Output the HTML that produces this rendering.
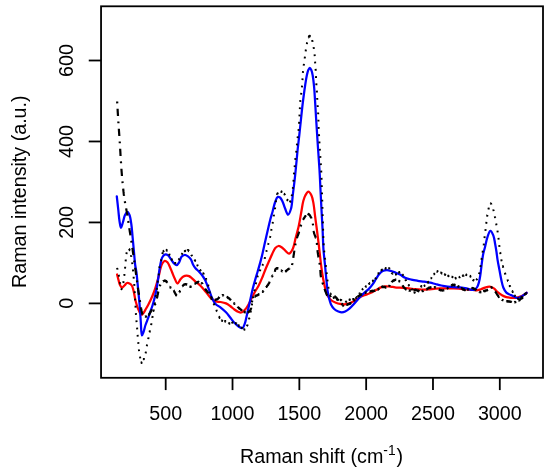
<!DOCTYPE html>
<html><head><meta charset="utf-8"><style>
html,body{margin:0;padding:0;background:#fff;}
svg{display:block;}
text{font-family:"Liberation Sans",Arial,sans-serif;font-size:19.7px;fill:#000;}
</style></head><body>
<svg width="550" height="476" viewBox="0 0 550 476">
<rect width="550" height="476" fill="#fff"/>
<rect x="101.05" y="6.3" width="441.95" height="371.50" fill="none" stroke="#000" stroke-width="1.8"/>
<line x1="165.70" y1="377.80" x2="165.70" y2="390.10" stroke="#000" stroke-width="1.8"/>
<text x="165.70" y="420" text-anchor="middle">500</text>
<line x1="232.52" y1="377.80" x2="232.52" y2="390.10" stroke="#000" stroke-width="1.8"/>
<text x="232.52" y="420" text-anchor="middle">1000</text>
<line x1="299.34" y1="377.80" x2="299.34" y2="390.10" stroke="#000" stroke-width="1.8"/>
<text x="299.34" y="420" text-anchor="middle">1500</text>
<line x1="366.16" y1="377.80" x2="366.16" y2="390.10" stroke="#000" stroke-width="1.8"/>
<text x="366.16" y="420" text-anchor="middle">2000</text>
<line x1="432.98" y1="377.80" x2="432.98" y2="390.10" stroke="#000" stroke-width="1.8"/>
<text x="432.98" y="420" text-anchor="middle">2500</text>
<line x1="499.80" y1="377.80" x2="499.80" y2="390.10" stroke="#000" stroke-width="1.8"/>
<text x="499.80" y="420" text-anchor="middle">3000</text>
<line x1="88.75" y1="303.40" x2="101.05" y2="303.40" stroke="#000" stroke-width="1.8"/>
<text transform="translate(72.6,303.40) rotate(-90)" text-anchor="middle">0</text>
<line x1="88.75" y1="222.43" x2="101.05" y2="222.43" stroke="#000" stroke-width="1.8"/>
<text transform="translate(72.6,222.43) rotate(-90)" text-anchor="middle">200</text>
<line x1="88.75" y1="141.47" x2="101.05" y2="141.47" stroke="#000" stroke-width="1.8"/>
<text transform="translate(72.6,141.47) rotate(-90)" text-anchor="middle">400</text>
<line x1="88.75" y1="60.50" x2="101.05" y2="60.50" stroke="#000" stroke-width="1.8"/>
<text transform="translate(72.6,60.50) rotate(-90)" text-anchor="middle">600</text>
<text x="240" y="463.3">Raman shift (cm<tspan dy="-8.3" font-size="13.8">-1</tspan><tspan dy="8.3" dx="0.8">)</tspan></text>
<text transform="translate(25.9,191.7) rotate(-90)" text-anchor="middle">Raman intensity (a.u.)</text>
<path d="M117.10,274.50 C117.57,276.33 118.01,278.22 118.50,280.00 C118.97,281.71 119.31,283.65 120.00,285.00 C120.55,286.07 121.25,287.52 122.00,287.60 C122.75,287.68 123.68,286.25 124.50,285.50 C125.35,284.72 126.09,283.28 127.00,283.00 C127.78,282.77 128.73,283.12 129.50,283.50 C130.34,283.91 131.17,284.54 131.80,285.50 C132.70,286.87 133.12,289.18 133.70,291.40 C134.42,294.19 134.82,297.99 135.60,301.00 C136.31,303.76 137.17,306.52 138.10,308.80 C138.87,310.68 139.79,312.82 140.60,313.80 C141.04,314.33 141.45,314.85 141.90,314.80 C142.51,314.73 143.20,313.36 143.80,312.50 C144.47,311.54 145.02,310.49 145.70,309.30 C146.53,307.85 147.56,306.00 148.40,304.40 C149.19,302.90 149.85,301.62 150.60,300.00 C151.50,298.06 152.57,295.64 153.40,293.50 C154.19,291.47 154.88,289.42 155.50,287.50 C156.06,285.76 156.48,284.31 157.00,282.50 C157.61,280.37 158.32,277.84 158.90,275.50 C159.48,273.17 159.88,270.62 160.50,268.50 C161.03,266.68 161.48,264.85 162.30,263.50 C162.98,262.38 163.90,260.94 164.80,260.80 C165.61,260.68 166.63,261.52 167.40,262.30 C168.41,263.34 169.12,265.27 169.90,266.90 C170.73,268.65 171.41,270.60 172.20,272.50 C173.01,274.47 173.78,276.62 174.70,278.50 C175.56,280.27 176.50,283.45 177.50,283.50 C178.44,283.55 179.45,280.52 180.50,279.30 C181.43,278.22 182.33,277.12 183.40,276.50 C184.35,275.95 185.51,275.65 186.50,275.60 C187.40,275.56 188.29,275.74 189.10,276.10 C189.96,276.48 190.63,277.18 191.50,277.90 C192.62,278.83 193.86,280.12 195.20,281.30 C196.73,282.64 198.66,284.00 200.20,285.50 C201.72,286.97 203.04,288.61 204.40,290.20 C205.74,291.78 207.05,293.53 208.30,295.00 C209.40,296.30 210.31,297.52 211.50,298.60 C212.71,299.69 213.99,300.93 215.50,301.50 C217.05,302.09 218.97,301.69 220.70,302.00 C222.47,302.32 224.38,302.70 226.00,303.40 C227.53,304.06 228.83,305.02 230.20,306.00 C231.64,307.04 232.96,308.48 234.40,309.50 C235.76,310.46 237.33,311.52 238.60,312.00 C239.54,312.36 240.42,312.63 241.20,312.50 C241.91,312.38 242.42,311.93 243.10,311.40 C244.08,310.64 245.35,309.32 246.30,308.10 C247.29,306.83 248.07,305.40 248.90,303.90 C249.81,302.26 250.58,300.44 251.50,298.60 C252.50,296.59 253.53,294.44 254.70,292.30 C255.95,290.01 257.52,287.79 258.80,285.30 C260.17,282.62 261.41,279.57 262.60,276.70 C263.77,273.87 264.77,270.93 265.90,268.20 C266.97,265.61 268.12,263.13 269.20,260.70 C270.22,258.40 271.16,256.16 272.20,254.00 C273.20,251.93 274.04,249.37 275.30,248.00 C276.24,246.98 277.37,246.08 278.50,246.00 C279.69,245.92 281.11,246.88 282.30,247.70 C283.63,248.62 284.80,250.35 286.00,251.40 C287.02,252.30 288.01,253.82 289.00,253.70 C290.22,253.55 291.60,251.17 292.60,249.20 C294.04,246.37 294.67,241.70 295.70,237.80 C296.78,233.71 297.97,229.47 298.90,225.20 C299.84,220.87 300.54,216.20 301.30,212.00 C302.00,208.17 302.49,204.01 303.30,201.00 C303.89,198.82 304.40,197.11 305.30,195.50 C306.13,194.01 307.37,191.60 308.40,191.60 C309.43,191.60 310.69,193.86 311.50,195.50 C312.54,197.63 312.93,200.54 313.50,203.60 C314.22,207.49 314.64,212.66 315.20,217.00 C315.73,221.11 316.25,224.71 316.80,229.00 C317.44,233.95 318.15,239.54 318.80,245.00 C319.48,250.73 320.13,257.25 320.80,262.60 C321.36,267.10 321.93,271.46 322.50,275.00 C322.93,277.67 323.31,279.63 323.80,282.00 C324.31,284.46 324.85,287.27 325.50,289.50 C326.04,291.35 326.63,292.99 327.30,294.50 C327.88,295.82 328.43,297.06 329.20,298.10 C329.92,299.07 330.69,299.87 331.70,300.60 C332.86,301.44 334.47,302.15 335.90,302.70 C337.28,303.24 338.69,303.62 340.10,303.90 C341.49,304.18 342.91,304.46 344.30,304.40 C345.71,304.33 347.12,303.92 348.50,303.50 C349.92,303.06 351.33,302.50 352.70,301.80 C354.13,301.07 355.50,300.07 356.90,299.20 C358.30,298.33 359.60,297.35 361.10,296.60 C362.68,295.81 364.44,295.30 366.20,294.60 C368.10,293.84 370.30,293.05 372.10,292.20 C373.70,291.44 375.03,290.60 376.50,289.80 C377.97,289.00 379.39,287.99 380.90,287.40 C382.33,286.84 383.78,286.44 385.30,286.30 C386.90,286.15 388.66,286.43 390.30,286.60 C391.89,286.77 393.41,287.12 395.00,287.30 C396.64,287.49 398.09,287.55 400.00,287.70 C402.54,287.90 406.19,288.12 408.90,288.40 C411.18,288.63 413.10,289.02 415.20,289.20 C417.30,289.38 419.40,289.48 421.50,289.50 C423.60,289.52 425.70,289.42 427.80,289.30 C429.90,289.18 432.03,288.95 434.10,288.80 C436.10,288.65 437.91,288.47 440.00,288.40 C442.37,288.32 445.19,288.40 447.60,288.40 C449.80,288.40 451.80,288.33 453.90,288.40 C456.00,288.47 458.10,288.65 460.20,288.80 C462.30,288.95 464.40,289.10 466.50,289.30 C468.60,289.50 470.82,289.85 472.80,290.00 C474.56,290.13 476.28,290.41 477.80,290.20 C479.14,290.01 480.29,289.44 481.50,289.00 C482.69,288.57 483.75,287.99 485.00,287.60 C486.37,287.17 487.94,286.49 489.40,286.60 C490.91,286.72 492.55,287.52 493.90,288.40 C495.29,289.31 496.27,290.88 497.60,292.00 C498.97,293.15 500.48,294.34 502.00,295.20 C503.42,296.01 504.85,296.67 506.40,297.10 C508.01,297.55 509.86,297.67 511.50,297.80 C513.02,297.92 514.45,298.09 515.90,297.90 C517.38,297.70 518.91,297.15 520.30,296.60 C521.64,296.07 522.99,295.39 524.10,294.70 C525.05,294.11 525.77,293.43 526.60,292.80" fill="none" stroke="#f00" stroke-width="2.25" stroke-linejoin="round" stroke-linecap="round"/>
<path d="M116.80,196.30 C117.30,200.87 117.83,205.68 118.30,210.00 C118.72,213.87 118.97,217.78 119.50,221.00 C119.92,223.55 120.39,227.76 121.00,227.80 C121.57,227.83 122.36,224.03 123.00,222.00 C123.70,219.79 124.08,216.82 125.00,215.00 C125.69,213.64 126.74,211.76 127.50,211.80 C128.23,211.84 128.94,213.60 129.50,215.00 C130.37,217.19 130.82,220.77 131.30,224.00 C131.85,227.70 132.10,231.85 132.50,236.00 C132.93,240.49 133.36,245.25 133.80,250.00 C134.26,254.91 134.66,260.95 135.20,265.00 C135.57,267.78 136.05,269.42 136.40,272.00 C136.83,275.16 137.13,278.91 137.50,282.60 C137.90,286.62 138.31,291.07 138.70,295.20 C139.08,299.20 139.47,302.83 139.80,307.00 C140.18,311.70 140.44,317.13 140.80,322.00 C141.14,326.62 141.12,335.36 141.90,335.50 C142.32,335.57 142.99,333.39 143.50,332.00 C144.21,330.09 144.73,327.33 145.50,325.00 C146.29,322.62 147.36,320.26 148.20,317.90 C149.02,315.59 149.75,313.16 150.50,311.00 C151.18,309.06 151.83,307.62 152.50,305.50 C153.39,302.68 154.46,298.66 155.20,295.50 C155.86,292.70 156.30,290.29 156.80,287.50 C157.34,284.47 157.87,280.87 158.30,278.00 C158.65,275.63 158.88,273.65 159.20,271.50 C159.51,269.38 159.77,267.35 160.20,265.20 C160.66,262.90 161.09,259.91 161.90,258.10 C162.48,256.82 163.25,255.73 164.00,255.10 C164.54,254.65 165.08,254.30 165.70,254.30 C166.45,254.30 167.44,254.87 168.20,255.50 C169.14,256.28 169.83,257.70 170.70,258.90 C171.66,260.22 172.61,262.01 173.70,263.10 C174.61,264.01 175.71,265.30 176.60,265.20 C177.52,265.09 178.35,263.49 179.10,262.30 C180.04,260.81 180.40,258.04 181.50,256.80 C182.35,255.84 183.52,255.07 184.60,255.00 C185.69,254.93 186.97,255.72 188.00,256.40 C189.08,257.12 190.10,258.10 190.90,259.30 C191.83,260.69 192.19,262.86 193.00,264.40 C193.74,265.80 194.50,266.99 195.50,268.20 C196.58,269.50 198.14,270.64 199.30,271.90 C200.39,273.08 201.38,274.24 202.30,275.50 C203.22,276.77 204.04,278.06 204.80,279.50 C205.62,281.05 206.26,282.71 207.00,284.50 C207.83,286.52 208.65,288.75 209.50,291.00 C210.42,293.43 211.21,296.34 212.30,298.60 C213.25,300.58 214.12,302.41 215.50,303.90 C216.91,305.42 218.99,306.24 220.70,307.60 C222.50,309.03 224.40,310.62 226.00,312.30 C227.56,313.93 228.80,315.76 230.20,317.50 C231.60,319.26 232.93,321.25 234.40,322.80 C235.74,324.21 237.18,325.57 238.60,326.50 C239.82,327.29 241.31,328.53 242.30,328.20 C243.40,327.84 244.02,325.55 244.70,323.80 C245.60,321.50 246.12,318.28 246.80,315.40 C247.52,312.36 248.20,309.14 248.90,306.00 C249.60,302.84 250.32,299.53 251.00,296.50 C251.62,293.72 252.14,291.16 252.80,288.50 C253.47,285.83 254.21,283.28 255.00,280.50 C255.86,277.47 256.91,274.07 257.80,271.00 C258.64,268.12 259.44,265.38 260.20,262.60 C260.94,259.88 261.61,257.39 262.30,254.50 C263.08,251.21 263.76,247.67 264.60,243.90 C265.57,239.58 266.79,234.31 267.80,230.00 C268.68,226.25 269.45,222.75 270.30,219.50 C271.05,216.64 271.84,214.25 272.60,211.50 C273.41,208.59 274.05,205.10 275.00,202.50 C275.77,200.40 276.49,197.55 277.60,197.00 C278.30,196.65 279.28,197.00 280.00,197.50 C280.99,198.19 281.72,199.92 282.50,201.50 C283.50,203.53 284.22,206.52 285.20,208.80 C286.10,210.90 287.13,214.70 288.10,214.70 C289.07,214.70 290.25,211.29 291.00,208.80 C292.12,205.07 292.28,199.00 292.90,194.10 C293.52,189.20 294.15,184.30 294.70,179.40 C295.25,174.50 295.72,169.60 296.20,164.70 C296.68,159.80 297.09,154.92 297.60,150.00 C298.12,145.02 298.75,139.98 299.30,135.00 C299.85,130.05 300.39,124.99 300.90,120.20 C301.38,115.67 301.80,111.29 302.30,107.00 C302.77,102.90 303.29,98.82 303.80,95.00 C304.26,91.51 304.69,88.29 305.20,85.00 C305.70,81.79 306.20,78.22 306.80,75.50 C307.26,73.40 307.65,71.36 308.30,70.00 C308.73,69.09 309.30,67.90 309.80,67.90 C310.30,67.90 310.87,69.08 311.30,70.00 C311.93,71.36 312.29,73.32 312.70,75.50 C313.28,78.62 313.72,83.04 314.10,87.00 C314.50,91.20 314.69,95.20 315.00,100.00 C315.38,105.95 315.76,112.96 316.20,120.00 C316.69,127.87 317.25,136.67 317.80,145.00 C318.35,153.33 319.04,162.13 319.50,170.00 C319.92,177.04 320.17,183.33 320.50,190.00 C320.83,196.67 321.15,203.33 321.50,210.00 C321.85,216.67 322.27,223.33 322.60,230.00 C322.93,236.67 323.05,243.82 323.50,250.00 C323.89,255.36 324.52,260.00 325.00,265.00 C325.48,270.00 325.93,275.39 326.40,280.00 C326.80,283.95 327.10,287.76 327.60,291.00 C328.00,293.61 328.42,295.73 329.00,298.00 C329.56,300.20 330.07,302.50 331.00,304.40 C331.85,306.13 332.91,307.80 334.20,309.00 C335.41,310.12 337.03,310.93 338.40,311.50 C339.56,311.99 340.67,312.40 341.80,312.40 C342.93,312.40 344.05,312.03 345.20,311.50 C346.58,310.86 348.00,309.78 349.40,308.60 C351.06,307.20 352.75,305.29 354.40,303.50 C356.12,301.63 357.81,299.44 359.50,297.60 C361.07,295.89 362.64,294.22 364.20,292.80 C365.60,291.52 367.06,290.72 368.40,289.40 C369.87,287.95 371.33,286.15 372.60,284.40 C373.86,282.65 374.86,280.68 376.00,278.90 C377.10,277.19 378.08,275.26 379.30,273.90 C380.35,272.74 381.42,271.72 382.70,271.10 C383.96,270.49 385.50,270.22 386.90,270.20 C388.30,270.18 389.71,270.62 391.10,271.00 C392.52,271.38 393.87,271.93 395.30,272.50 C396.83,273.12 398.43,273.77 400.00,274.60 C401.69,275.49 403.25,276.88 405.10,277.70 C407.04,278.56 409.29,279.08 411.40,279.60 C413.49,280.11 415.60,280.45 417.70,280.80 C419.80,281.15 421.90,281.38 424.00,281.70 C426.10,282.02 428.33,282.29 430.30,282.70 C432.07,283.07 433.56,283.56 435.30,284.00 C437.21,284.49 439.27,285.07 441.30,285.50 C443.37,285.94 445.49,286.32 447.60,286.60 C449.69,286.88 451.80,287.07 453.90,287.20 C456.00,287.33 458.11,287.20 460.20,287.40 C462.31,287.60 464.53,287.97 466.50,288.40 C468.27,288.79 470.03,289.65 471.50,289.80 C472.62,289.92 473.59,290.00 474.50,289.60 C475.51,289.15 476.48,288.11 477.20,287.00 C478.06,285.68 478.50,283.82 479.00,282.00 C479.57,279.93 479.88,277.82 480.30,275.20 C480.86,271.65 481.37,266.40 481.90,262.60 C482.34,259.46 482.64,256.74 483.20,254.00 C483.72,251.45 484.43,249.33 485.10,246.70 C485.88,243.61 486.56,239.44 487.60,236.60 C488.41,234.38 489.40,230.96 490.40,230.90 C491.31,230.85 492.54,233.57 493.30,235.40 C494.28,237.78 494.65,241.35 495.20,244.20 C495.71,246.87 496.10,249.37 496.50,252.00 C496.90,254.67 497.14,257.26 497.60,260.10 C498.12,263.29 498.87,266.84 499.50,270.20 C500.13,273.54 500.71,277.14 501.40,280.20 C501.99,282.84 502.39,285.34 503.30,287.50 C504.11,289.42 505.07,291.32 506.40,292.60 C507.64,293.79 509.40,294.32 510.90,295.10 C512.36,295.85 514.02,296.69 515.30,297.20 C516.24,297.57 516.88,298.02 517.80,298.00 C518.94,297.98 520.44,297.23 521.60,296.60 C522.73,295.99 523.80,294.99 524.70,294.30 C525.42,293.75 525.97,293.30 526.60,292.80" fill="none" stroke="#00f" stroke-width="2.25" stroke-linejoin="round" stroke-linecap="round"/>
<path d="M117.10,267.80 117.23,268.57 117.37,269.07 117.50,269.33 117.63,270.37 117.77,270.86 117.90,271.26 118.04,272.08 118.17,272.64 118.30,273.24 118.44,273.81 118.57,274.56 118.70,274.97 118.84,275.79 118.97,276.49 119.10,277.50 119.24,278.21 119.37,278.98 119.51,279.69 119.64,280.57 119.77,281.36 119.91,281.98 120.04,282.99 120.17,283.69 120.31,283.74 120.44,284.69 120.57,285.79 120.71,286.44 120.84,287.21 120.98,287.77 121.11,288.60 121.24,288.30 121.38,288.65 121.51,289.21 121.64,288.86 121.78,288.69 121.91,288.19 122.04,287.64 122.18,287.62 122.31,287.18 122.45,286.45 122.58,286.06 122.71,285.66 122.85,284.94 122.98,284.54 123.11,284.00 123.25,283.39 123.38,282.62 123.51,282.06 123.65,281.21 123.78,280.03 123.92,278.60 124.05,277.67 124.18,276.24 124.32,275.40 124.45,273.85 124.58,273.05 124.72,271.61 124.85,270.06 124.98,268.90 125.12,267.51 125.25,265.92 125.39,263.98 125.52,262.36 125.65,261.17 125.79,259.47 125.92,258.05 126.05,256.80 126.19,255.21 126.32,254.70 126.45,254.15 126.59,253.15 126.72,252.39 126.86,252.10 126.99,251.47 127.12,251.14 127.26,250.49 127.39,249.92 127.52,249.92 127.66,249.61 127.79,249.64 127.92,249.33 128.06,248.78 128.19,248.71 128.33,248.99 128.46,248.84 128.59,248.50 128.73,248.60 128.86,248.71 128.99,248.81 129.13,249.05 129.26,249.15 129.39,249.36 129.53,249.66 129.66,250.30 129.80,250.05 129.93,250.90 130.06,251.37 130.20,251.50 130.33,252.30 130.46,252.58 130.60,253.42 130.73,253.81 130.86,254.60 131.00,255.40 131.13,255.96 131.27,256.46 131.40,257.11 131.53,258.55 131.67,258.99 131.80,259.75 131.93,260.83 132.07,261.72 132.20,262.93 132.33,263.81 132.47,264.89 132.60,265.86 132.74,267.24 132.87,268.12 133.00,269.73 133.14,271.29 133.27,272.17 133.40,273.51 133.54,275.65 133.67,277.56 133.80,278.42 133.94,280.00 134.07,282.06 134.21,283.52 134.34,285.38 134.47,287.33 134.61,289.73 134.74,292.96 134.87,296.67 135.01,298.73 135.14,300.35 135.28,302.15 135.41,303.95 135.54,306.57 135.68,309.06 135.81,311.54 135.94,314.33 136.08,316.19 136.21,318.13 136.34,319.93 136.48,321.17 136.61,322.51 136.75,323.92 136.88,325.22 137.01,326.42 137.15,328.63 137.28,330.42 137.41,332.34 137.55,334.09 137.68,335.69 137.81,337.51 137.95,338.34 138.08,340.01 138.22,341.05 138.35,343.23 138.48,345.33 138.62,346.83 138.75,348.13 138.88,349.43 139.02,350.53 139.15,351.45 139.28,352.59 139.42,353.07 139.55,353.71 139.69,354.57 139.82,355.34 139.95,356.13 140.09,357.02 140.22,358.11 140.35,358.81 140.49,360.27 140.62,360.77 140.75,361.26 140.89,362.06 141.02,362.49" fill="none" stroke="#000" stroke-width="2.0" stroke-dasharray="1.820 5.460" stroke-dashoffset="0" stroke-linejoin="round"/>
<path d="M141.02,362.49 141.16,362.51 141.29,362.53 141.42,362.32 141.56,363.04 141.69,362.56 141.82,362.05 141.96,362.00 142.09,362.03 142.22,361.54 142.36,361.71 142.49,361.41 142.63,361.55 142.76,361.30 142.89,360.35 143.03,360.68 143.16,360.12 143.29,360.43 143.43,359.99 143.56,359.76 143.69,359.08 143.83,359.25 143.96,358.82 144.10,357.69 144.23,357.43 144.36,356.70 144.50,356.34 144.63,355.65 144.76,355.89 144.90,354.94 145.03,354.71 145.16,354.51 145.30,353.92 145.43,353.62 145.57,353.16 145.70,352.82 145.83,352.13 145.97,351.73 146.10,351.11 146.23,350.30 146.37,349.47 146.50,348.40 146.63,347.58 146.77,346.38 146.90,345.54 147.04,344.67 147.17,344.00 147.30,343.18 147.44,342.89 147.57,341.92 147.70,341.38 147.84,340.99 147.97,340.38 148.10,339.61 148.24,338.66 148.37,338.51 148.51,337.83 148.64,336.82 148.77,336.57 148.91,335.58 149.04,334.80 149.17,334.34 149.31,333.58 149.44,332.96 149.57,331.91 149.71,331.91 149.84,330.76 149.98,329.93 150.11,329.74 150.24,328.94 150.38,328.48 150.51,327.76 150.64,327.22 150.78,326.70 150.91,325.90 151.04,325.57 151.18,324.72 151.31,323.98 151.45,323.47 151.58,322.82 151.71,321.91 151.85,320.99 151.98,320.45 152.11,319.13 152.25,318.42 152.38,317.78 152.51,316.66 152.65,316.11 152.78,315.27 152.92,314.63 153.05,313.43 153.18,312.66 153.32,312.02 153.45,310.63 153.58,310.92 153.72,309.36 153.85,308.55 153.98,308.10 154.12,307.16 154.25,306.07 154.39,305.81 154.52,305.11 154.65,304.09 154.79,303.36 154.92,302.72 155.05,301.61 155.19,301.02 155.32,300.07 155.45,298.96 155.59,297.86 155.72,297.11 155.86,295.98 155.99,295.34 156.12,294.15 156.26,293.25 156.39,292.10 156.52,291.10 156.66,289.82 156.79,289.03 156.92,288.16 157.06,286.64 157.19,285.50 157.33,284.53 157.46,283.44 157.59,282.41 157.73,281.66 157.86,280.72 157.99,280.24 158.13,279.14 158.26,278.38 158.39,277.65 158.53,276.48 158.66,275.78 158.80,274.11 158.93,272.62 159.06,271.16 159.20,269.73 159.33,268.18 159.46,267.38 159.60,266.18 159.73,266.07 159.86,265.13 160.00,264.44 160.13,263.84 160.27,263.43 160.40,262.96 160.53,262.30 160.67,261.82 160.80,261.46 160.93,260.89 161.07,260.70 161.20,260.27 161.33,259.58 161.47,259.21 161.60,258.37 161.74,258.27 161.87,257.62 162.00,257.12 162.14,256.54 162.27,254.79 162.40,254.34 162.54,253.26 162.67,252.98 162.80,252.12 162.94,251.91" fill="none" stroke="#000" stroke-width="2.0" stroke-dasharray="1.820 5.460" stroke-dashoffset="0" stroke-linejoin="round"/>
<path d="M162.94,251.91 163.07,251.76 163.21,251.61 163.34,251.31 163.47,250.96 163.61,250.85 163.74,250.99 163.87,250.68 164.01,250.21 164.14,250.60 164.27,250.41 164.41,250.41 164.54,250.08 164.68,250.23 164.81,249.78 164.94,250.05 165.08,249.79 165.21,249.98 165.34,250.02 165.48,249.65 165.61,249.79 165.74,249.82 165.88,250.07 166.01,250.01 166.15,249.67 166.28,250.06 166.41,250.19 166.55,250.54 166.68,249.86 166.81,250.18 166.95,250.65 167.08,250.22 167.21,250.37 167.35,250.84 167.48,251.07 167.62,250.87 167.75,251.25 167.88,251.32 168.02,251.78 168.15,251.67 168.28,252.10 168.42,251.96 168.55,252.38 168.69,252.69 168.82,253.24 168.95,253.46 169.09,253.54 169.22,254.17 169.35,254.55 169.49,254.74 169.62,255.07 169.75,255.44 169.89,255.49 170.02,256.20 170.16,256.53 170.29,256.61 170.42,257.22 170.56,257.06 170.69,257.47 170.82,257.72 170.96,258.45 171.09,257.96 171.22,258.63 171.36,258.93 171.49,259.04 171.63,259.43 171.76,259.21 171.89,259.18 172.03,260.00 172.16,259.82 172.29,260.20 172.43,260.23 172.56,260.88 172.69,261.03 172.83,260.91 172.96,261.41 173.10,261.44 173.23,261.55 173.36,261.76 173.50,261.86 173.63,262.18 173.76,262.25 173.90,262.25 174.03,262.64 174.16,262.43 174.30,262.71 174.43,262.83 174.57,263.13 174.70,262.81 174.83,263.33 174.97,263.08 175.10,263.06 175.23,263.01 175.37,263.29 175.50,263.21 175.63,262.98 175.77,262.98 175.90,263.08 176.04,263.02 176.17,263.34 176.30,263.34 176.44,263.17 176.57,262.99 176.70,262.75 176.84,262.75 176.97,262.80 177.10,262.93 177.24,262.56 177.37,262.18 177.51,262.10 177.64,261.83 177.77,261.59 177.91,261.50 178.04,261.35 178.17,261.43 178.31,260.80 178.44,260.78 178.57,260.57 178.71,259.93 178.84,259.93 178.98,259.43 179.11,258.89 179.24,258.70 179.38,258.34 179.51,257.97 179.64,257.67 179.78,257.44 179.91,257.21 180.04,256.66 180.18,256.57 180.31,256.01 180.45,256.12 180.58,255.97 180.71,255.66 180.85,255.49 180.98,255.36 181.11,254.91 181.25,254.81 181.38,254.77 181.51,254.68 181.65,254.37 181.78,254.62 181.92,253.92 182.05,253.96 182.18,253.84 182.32,253.39 182.45,253.09 182.58,252.86 182.72,252.98 182.85,253.01 182.98,252.70 183.12,252.54 183.25,252.29 183.39,252.35 183.52,251.69 183.65,252.04 183.79,251.88 183.92,251.49 184.05,252.10 184.19,251.29 184.32,251.26 184.45,251.15 184.59,251.53 184.72,251.05 184.86,251.29 184.99,251.21 185.12,251.08 185.26,250.70 185.39,250.78 185.52,251.18 185.66,250.53 185.79,250.57 185.92,250.65 186.06,250.80 186.19,250.64 186.33,250.70 186.46,250.30 186.59,250.67 186.73,250.57 186.86,250.11 186.99,250.71 187.13,250.84 187.26,250.22 187.39,250.37 187.53,250.63 187.66,250.06 187.80,249.97 187.93,250.12 188.06,250.29" fill="none" stroke="#000" stroke-width="2.0" stroke-dasharray="1.820 5.460" stroke-dashoffset="0" stroke-linejoin="round"/>
<path d="M188.06,250.29 188.20,250.32 188.33,250.60 188.46,250.58 188.60,250.35 188.73,250.80 188.86,251.17 189.00,251.17 189.13,251.28 189.27,251.26 189.40,251.65 189.53,251.47 189.67,252.05 189.80,252.13 189.93,252.64 190.07,252.77 190.20,252.73 190.33,253.24 190.47,253.71 190.60,253.49 190.74,253.83 190.87,254.00 191.00,254.05 191.14,254.74 191.27,255.01 191.40,255.11 191.54,255.19 191.67,255.33 191.80,255.59 191.94,255.59 192.07,256.11 192.21,256.34 192.34,256.52 192.47,256.42 192.61,256.75 192.74,256.90 192.87,257.49 193.01,257.37 193.14,257.16 193.27,257.82 193.41,258.32 193.54,258.28 193.68,258.53 193.81,258.57 193.94,258.37 194.08,258.61 194.21,258.93 194.34,259.37 194.48,259.66 194.61,259.94 194.74,259.95 194.88,260.42 195.01,260.38 195.15,260.51 195.28,261.03 195.41,260.90 195.55,260.75 195.68,261.31 195.81,261.77 195.95,261.36 196.08,262.14 196.21,262.39 196.35,262.42 196.48,262.66 196.62,263.13 196.75,263.40 196.88,264.06 197.02,264.19 197.15,264.11 197.28,264.58 197.42,265.22 197.55,265.79 197.68,265.81 197.82,266.12 197.95,266.75 198.09,266.68 198.22,266.92 198.35,266.99 198.49,267.44 198.62,268.24 198.75,267.77 198.89,268.28 199.02,268.21 199.15,268.73 199.29,269.08 199.42,269.05 199.56,269.43 199.69,269.60 199.82,269.72 199.96,270.15 200.09,270.13 200.22,270.08 200.36,270.16 200.49,270.29 200.62,270.71 200.76,270.71 200.89,271.48 201.03,271.46 201.16,271.20 201.29,271.34 201.43,271.90 201.56,271.35 201.69,271.80 201.83,272.25 201.96,272.03 202.10,272.27 202.23,272.44 202.36,272.79 202.50,272.83 202.63,273.03 202.76,273.21 202.90,273.24 203.03,273.60 203.16,273.37 203.30,273.37 203.43,273.45 203.57,273.63 203.70,274.00 203.83,274.47 203.97,274.46 204.10,274.47 204.23,274.55 204.37,274.83 204.50,275.05 204.63,275.22 204.77,275.26 204.90,275.68 205.04,276.22 205.17,275.84 205.30,276.50 205.44,276.41 205.57,277.18 205.70,277.31 205.84,277.37 205.97,278.16 206.10,278.86 206.24,278.90 206.37,279.49 206.51,279.65 206.64,279.63 206.77,280.57 206.91,280.81 207.04,281.01 207.17,281.88 207.31,282.19 207.44,282.45 207.57,283.17 207.71,283.28 207.84,284.05 207.98,284.21 208.11,285.00 208.24,285.18 208.38,286.22 208.51,286.51 208.64,287.29 208.78,287.39 208.91,288.02 209.04,288.86 209.18,288.77 209.31,289.79 209.45,290.95 209.58,291.61 209.71,292.50 209.85,293.00 209.98,293.89 210.11,294.29 210.25,294.76 210.38,295.23 210.51,295.94 210.65,296.39 210.78,296.80 210.92,296.62 211.05,297.33 211.18,298.00 211.32,298.54 211.45,298.72 211.58,299.01 211.72,299.07 211.85,300.27 211.98,299.97 212.12,300.85 212.25,301.14 212.39,301.19 212.52,301.33 212.65,301.78 212.79,301.82 212.92,302.40 213.05,302.63 213.19,303.01 213.32,303.35 213.45,303.76 213.59,303.58 213.72,304.10 213.86,303.97 213.99,304.18 214.12,304.47 214.26,304.63 214.39,305.25 214.52,305.47 214.66,305.78 214.79,305.76 214.92,306.07 215.06,306.15 215.19,306.30 215.33,306.90 215.46,307.16 215.59,307.20 215.73,307.87 215.86,307.76 215.99,308.45 216.13,308.76 216.26,309.19 216.39,309.51 216.53,310.35 216.66,310.72 216.80,311.28 216.93,311.50 217.06,311.64 217.20,312.23 217.33,312.45 217.46,313.14 217.60,313.63 217.73,313.79 217.86,313.93 218.00,314.30 218.13,314.74 218.27,314.73 218.40,315.36 218.53,315.67 218.67,315.82 218.80,316.12 218.93,316.51 219.07,316.57 219.20,316.81 219.33,317.37 219.47,317.48 219.60,317.98 219.74,317.65 219.87,317.69 220.00,318.43 220.14,318.63 220.27,318.48 220.40,318.52 220.54,318.99 220.67,318.83 220.80,319.28 220.94,319.08 221.07,319.63 221.21,319.41 221.34,319.93 221.47,320.42 221.61,320.20 221.74,320.53 221.87,320.37 222.01,320.43 222.14,320.41 222.27,321.01 222.41,320.87 222.54,321.29 222.68,320.79 222.81,321.04 222.94,321.14 223.08,321.45 223.21,321.56 223.34,321.08 223.48,321.00 223.61,320.89 223.74,321.51 223.88,321.23 224.01,321.12 224.15,321.24 224.28,320.73 224.41,320.90 224.55,321.43 224.68,321.32 224.81,321.27 224.95,321.04 225.08,321.36 225.21,321.61 225.35,321.01 225.48,321.28 225.62,321.21 225.75,321.39 225.88,321.36 226.02,321.37 226.15,321.27 226.28,321.50 226.42,321.44 226.55,321.61 226.68,321.70 226.82,321.93 226.95,321.77 227.09,321.91 227.22,322.28 227.35,322.12 227.49,322.21 227.62,322.54 227.75,322.52 227.89,322.58 228.02,322.71 228.15,322.51 228.29,322.94 228.42,323.21 228.56,323.14 228.69,322.80 228.82,323.24 228.96,323.07 229.09,323.27 229.22,323.40 229.36,323.18 229.49,323.72 229.62,323.47 229.76,323.66 229.89,323.63 230.03,323.76 230.16,323.72 230.29,323.16 230.43,323.43 230.56,322.95 230.69,323.25 230.83,323.43 230.96,323.41 231.09,323.43 231.23,323.03 231.36,323.11 231.50,323.00 231.63,323.17 231.76,323.17 231.90,322.72 232.03,323.49 232.16,322.68 232.30,322.56 232.43,322.71 232.56,322.71 232.70,322.63 232.83,322.38 232.97,322.79 233.10,322.50 233.23,322.80 233.37,322.78 233.50,322.26 233.63,322.33 233.77,322.35 233.90,322.62 234.03,322.60 234.17,322.67 234.30,322.49 234.44,322.77 234.57,323.00 234.70,322.50 234.84,322.77 234.97,322.90 235.10,322.88 235.24,322.91 235.37,323.36 235.51,323.32 235.64,323.29 235.77,323.03 235.91,323.70 236.04,323.39 236.17,323.27 236.31,323.40 236.44,323.46 236.57,324.07 236.71,323.79 236.84,323.86 236.98,323.52 237.11,324.21 237.24,323.97 237.38,324.08 237.51,324.54 237.64,324.37 237.78,324.83 237.91,325.01 238.04,324.55 238.18,325.01 238.31,324.84 238.45,325.26 238.58,325.56 238.71,325.22 238.85,325.96 238.98,325.65 239.11,325.59 239.25,325.92 239.38,326.22 239.51,325.90 239.65,326.29 239.78,326.13 239.92,326.77 240.05,326.67 240.18,326.67 240.32,327.08 240.45,326.73 240.58,327.02 240.72,327.58 240.85,327.30 240.98,327.71 241.12,327.58 241.25,327.51 241.39,327.71 241.52,327.88 241.65,327.88 241.79,327.90 241.92,328.01 242.05,327.98 242.19,328.41 242.32,328.59 242.45,328.78 242.59,328.39 242.72,329.03 242.86,328.98 242.99,328.80 243.12,329.21 243.26,329.45 243.39,329.48 243.52,329.59 243.66,329.70 243.79,329.74 243.92,329.58" fill="none" stroke="#000" stroke-width="2.0" stroke-dasharray="1.820 5.460" stroke-dashoffset="0" stroke-linejoin="round"/>
<path d="M243.92,329.58 244.06,329.19 244.19,329.44 244.33,329.64 244.46,329.42 244.59,329.59 244.73,329.53 244.86,329.28 244.99,329.53 245.13,328.83 245.26,329.07 245.39,328.63 245.53,328.40 245.66,328.49 245.80,328.06 245.93,328.16 246.06,327.54 246.20,327.57 246.33,327.17 246.46,327.06 246.60,326.79 246.73,326.40 246.86,326.51 247.00,325.86 247.13,325.62 247.27,325.67 247.40,325.34 247.53,324.90 247.67,324.42 247.80,324.37 247.93,323.20 248.07,322.79 248.20,322.22 248.33,322.06 248.47,321.39 248.60,321.01 248.74,320.44 248.87,319.67 249.00,319.03 249.14,318.47 249.27,318.56 249.40,317.76 249.54,317.11 249.67,316.34 249.80,315.78 249.94,315.14 250.07,314.53 250.21,313.48 250.34,313.31 250.47,312.60 250.61,312.08 250.74,311.40 250.87,310.85 251.01,309.99 251.14,309.46 251.27,308.09 251.41,307.65 251.54,307.46 251.68,306.09 251.81,305.47 251.94,304.84 252.08,303.69 252.21,303.16 252.34,301.88 252.48,300.93 252.61,300.21 252.74,299.31 252.88,298.83 253.01,297.99 253.15,297.36 253.28,296.36 253.41,296.36 253.55,295.12 253.68,294.44 253.81,293.85 253.95,293.03 254.08,292.28 254.21,291.76 254.35,291.27 254.48,290.56 254.62,289.97 254.75,289.03 254.88,288.34 255.02,288.27 255.15,287.18 255.28,286.70 255.42,286.11 255.55,285.60 255.68,284.40 255.82,283.93 255.95,283.29 256.09,282.68 256.22,281.63 256.35,281.47 256.49,280.30 256.62,280.35 256.75,279.82 256.89,279.27 257.02,278.37 257.15,278.28 257.29,277.42 257.42,276.88 257.56,276.47 257.69,276.05 257.82,275.82 257.96,275.52 258.09,274.53 258.22,274.45 258.36,274.35 258.49,273.85 258.62,273.55 258.76,272.80 258.89,272.96 259.03,272.13 259.16,272.16 259.29,272.09 259.43,271.90 259.56,271.34 259.69,271.15 259.83,270.60 259.96,270.37 260.09,270.46 260.23,269.99 260.36,269.73 260.50,269.24 260.63,269.33 260.76,269.20 260.90,268.68 261.03,268.50 261.16,268.68 261.30,268.16 261.43,267.82 261.56,267.40 261.70,267.24 261.83,267.04 261.97,267.08 262.10,266.38 262.23,266.54 262.37,265.67 262.50,265.44 262.63,265.33 262.77,264.75 262.90,264.26 263.03,264.02 263.17,263.74 263.30,262.91 263.44,262.79 263.57,262.40 263.70,261.91 263.84,261.70 263.97,261.00 264.10,260.59 264.24,260.21 264.37,259.89 264.50,259.24 264.64,259.11 264.77,258.13 264.91,258.05 265.04,257.08 265.17,256.67 265.31,256.20 265.44,255.96 265.57,255.14 265.71,254.29 265.84,254.05 265.97,253.18 266.11,252.51 266.24,252.21 266.38,251.58 266.51,251.20 266.64,250.35 266.78,249.98 266.91,249.48 267.04,248.86 267.18,248.26 267.31,247.58 267.44,247.37 267.58,246.69 267.71,246.24 267.85,245.55 267.98,245.13 268.11,244.43 268.25,244.18 268.38,243.84 268.51,243.23 268.65,242.92 268.78,242.34 268.92,242.08 269.05,241.28 269.18,240.50 269.32,240.41 269.45,239.77 269.58,239.08 269.72,238.88 269.85,238.26 269.98,237.75 270.12,237.03 270.25,236.56 270.39,235.98 270.52,235.66 270.65,234.51 270.79,233.94 270.92,233.24 271.05,231.97 271.19,231.09 271.32,230.91 271.45,229.19 271.59,228.75 271.72,227.60 271.86,226.83 271.99,225.83 272.12,225.31 272.26,224.94 272.39,223.80 272.52,223.50 272.66,222.74 272.79,222.38 272.92,221.16 273.06,220.77 273.19,219.93 273.33,218.89 273.46,217.78 273.59,217.54 273.73,216.08 273.86,215.37 273.99,214.75 274.13,213.92 274.26,212.68 274.39,212.02 274.53,211.19 274.66,210.71 274.80,210.22 274.93,208.60 275.06,208.39 275.20,206.85 275.33,206.61 275.46,205.52 275.60,205.18 275.73,203.60 275.86,202.01 276.00,200.68 276.13,199.50 276.27,198.73 276.40,197.93 276.53,197.49 276.67,197.07 276.80,196.29 276.93,195.31 277.07,194.69 277.20,194.37 277.33,194.31" fill="none" stroke="#000" stroke-width="2.0" stroke-dasharray="1.820 5.460" stroke-dashoffset="0" stroke-linejoin="round"/>
<path d="M277.33,194.31 277.47,193.67 277.60,193.29 277.74,193.18 277.87,192.64 278.00,192.50 278.14,192.67 278.27,192.37 278.40,192.22 278.54,192.27 278.67,192.00 278.80,191.90 278.94,191.87 279.07,192.02 279.21,191.85 279.34,191.55 279.47,191.68 279.61,191.83 279.74,192.04 279.87,191.40 280.01,191.67 280.14,191.52 280.27,191.72 280.41,191.63 280.54,191.82 280.68,191.63 280.81,191.41 280.94,191.42 281.08,191.62 281.21,191.63 281.34,192.05 281.48,191.93 281.61,191.39 281.74,191.74 281.88,191.46 282.01,191.46 282.15,192.01 282.28,192.05 282.41,191.82 282.55,192.45 282.68,192.03 282.81,192.11 282.95,192.59 283.08,192.63 283.21,192.68 283.35,192.84 283.48,193.04 283.62,193.12 283.75,193.26 283.88,193.08 284.02,193.35 284.15,193.91 284.28,193.81 284.42,194.23 284.55,194.55 284.68,194.44 284.82,194.78 284.95,195.38 285.09,195.36 285.22,195.86 285.35,196.08 285.49,196.22 285.62,196.36 285.75,196.53 285.89,196.79 286.02,197.43 286.15,197.74 286.29,197.92 286.42,198.42 286.56,198.41 286.69,199.02 286.82,199.06 286.96,199.27 287.09,199.49 287.22,199.66 287.36,200.38 287.49,199.77 287.62,200.32 287.76,200.74 287.89,200.83 288.03,200.82 288.16,201.41 288.29,201.03 288.43,201.15 288.56,201.68 288.69,201.43 288.83,201.38 288.96,202.14 289.09,202.22 289.23,202.29 289.36,202.09 289.50,202.24 289.63,201.98 289.76,202.45 289.90,202.16 290.03,202.01 290.16,201.30 290.30,201.65 290.43,201.55 290.56,201.24 290.70,200.87 290.83,200.40 290.97,200.02 291.10,199.85 291.23,199.37 291.37,198.76 291.50,197.88 291.63,197.28 291.77,195.62 291.90,194.89 292.03,193.90 292.17,193.32 292.30,192.47 292.44,191.46 292.57,190.36 292.70,188.88 292.84,188.47 292.97,186.97 293.10,185.53 293.24,184.10 293.37,182.44 293.50,180.92 293.64,179.01 293.77,176.72 293.91,174.23 294.04,173.02 294.17,171.64 294.31,170.27 294.44,168.80 294.57,167.58 294.71,166.33 294.84,164.58 294.97,163.49 295.11,161.33 295.24,160.07 295.38,158.84 295.51,157.35 295.64,156.56 295.78,155.97 295.91,154.95 296.04,153.68 296.18,152.92 296.31,151.44 296.44,150.02 296.58,148.79 296.71,147.28 296.85,145.98 296.98,144.06 297.11,143.11 297.25,141.42 297.38,140.36 297.51,138.64 297.65,137.71 297.78,136.71 297.91,135.79 298.05,134.29 298.18,133.78 298.32,132.41 298.45,131.03 298.58,130.09 298.72,128.43 298.85,126.98 298.98,125.31 299.12,122.86 299.25,120.23 299.38,117.77 299.52,115.53 299.65,113.15 299.79,110.32 299.92,107.55 300.05,105.15 300.19,103.22 300.32,100.39 300.45,99.59 300.59,98.22 300.72,97.38 300.85,96.44 300.99,95.36 301.12,94.22 301.26,93.18 301.39,92.02 301.52,91.44 301.66,89.90 301.79,88.51 301.92,87.15 302.06,85.43 302.19,84.12 302.33,82.46 302.46,80.38 302.59,77.80 302.73,76.20 302.86,73.42 302.99,71.24 303.13,69.88 303.26,68.71 303.39,67.81 303.53,66.60 303.66,65.53 303.80,64.82 303.93,64.30 304.06,62.81 304.20,62.10 304.33,61.10 304.46,60.71 304.60,58.90 304.73,58.59 304.86,57.21 305.00,56.41 305.13,55.55 305.27,55.18 305.40,53.30 305.53,51.96 305.67,51.52 305.80,50.08 305.93,49.28 306.07,48.48 306.20,47.69 306.33,46.84 306.47,46.16 306.60,45.44 306.74,44.81 306.87,43.86 307.00,43.14 307.14,42.44 307.27,42.17 307.40,41.48 307.54,41.04 307.67,40.48 307.80,40.17 307.94,39.37 308.07,39.01 308.21,38.21 308.34,37.86 308.47,37.70 308.61,37.24 308.74,37.37 308.87,36.73 309.01,36.78 309.14,36.06 309.27,36.15 309.41,36.15" fill="none" stroke="#000" stroke-width="2.0" stroke-dasharray="1.820 5.460" stroke-dashoffset="0" stroke-linejoin="round"/>
<path d="M309.41,36.15 309.54,36.05 309.68,35.67 309.81,36.02 309.94,36.22 310.08,36.23 310.21,36.08 310.34,36.23 310.48,36.28 310.61,36.83 310.74,37.19 310.88,37.02 311.01,37.01 311.15,37.62 311.28,37.98 311.41,37.57 311.55,38.46 311.68,39.21 311.81,39.32 311.95,39.67 312.08,40.08 312.21,40.67 312.35,40.75 312.48,41.26 312.62,42.03 312.75,42.37 312.88,43.16 313.02,43.36 313.15,44.58 313.28,45.31 313.42,45.91 313.55,46.72 313.68,47.84 313.82,48.15 313.95,49.06 314.09,49.97 314.22,51.13 314.35,52.14 314.49,53.58 314.62,54.80 314.75,56.13 314.89,57.94 315.02,60.71 315.15,62.70 315.29,64.58 315.42,66.38 315.56,68.14 315.69,70.36 315.82,73.31 315.96,76.88 316.09,79.65 316.22,82.05 316.36,84.26 316.49,86.84 316.62,88.20 316.76,89.79 316.89,92.00 317.03,94.43 317.16,97.41 317.29,99.70 317.43,102.13 317.56,104.07 317.69,106.17 317.83,108.29 317.96,110.44 318.09,112.31 318.23,114.36 318.36,118.01 318.50,122.80 318.63,127.29 318.76,130.11 318.90,132.96 319.03,135.27 319.16,137.90 319.30,140.33 319.43,142.44 319.56,144.99 319.70,147.32 319.83,149.33 319.97,151.78 320.10,153.98 320.23,155.65 320.37,157.56 320.50,159.41 320.63,161.27 320.77,163.42 320.90,165.41 321.03,167.71 321.17,170.21 321.30,172.97 321.44,176.36 321.57,180.25 321.70,183.87 321.84,187.99 321.97,192.45 322.10,196.65 322.24,200.87 322.37,205.84 322.50,210.28 322.64,215.25 322.77,219.04 322.91,223.36 323.04,228.27 323.17,232.48 323.31,237.11 323.44,240.22 323.57,243.33 323.71,245.58 323.84,247.53 323.97,249.15 324.11,250.46 324.24,251.49 324.38,253.00 324.51,254.05 324.64,255.24 324.78,256.34 324.91,256.93 325.04,258.66 325.18,259.90 325.31,260.77 325.44,262.33 325.58,263.66 325.71,264.50 325.85,265.57 325.98,267.00 326.11,268.86 326.25,269.56 326.38,270.49 326.51,271.94 326.65,273.08 326.78,274.50 326.91,275.87 327.05,276.58 327.18,278.34 327.32,279.66 327.45,280.38 327.58,281.31 327.72,282.55 327.85,283.08 327.98,284.10 328.12,285.06 328.25,286.22 328.38,287.15 328.52,287.79 328.65,288.58 328.79,289.21 328.92,289.67 329.05,289.87 329.19,290.41 329.32,291.10 329.45,291.01 329.59,291.53 329.72,291.83 329.85,292.21 329.99,292.34 330.12,292.59 330.26,293.66 330.39,293.62 330.52,293.55 330.66,293.94 330.79,294.34 330.92,294.38 331.06,294.80 331.19,294.78 331.32,295.04 331.46,295.30 331.59,295.43 331.73,295.22 331.86,295.90 331.99,296.12 332.13,296.33 332.26,296.19 332.39,296.61 332.53,296.73 332.66,296.47 332.79,296.51 332.93,297.17 333.06,297.00 333.20,297.51 333.33,297.85 333.46,297.41 333.60,297.49 333.73,297.73 333.86,297.96 334.00,297.69 334.13,298.26 334.26,298.30 334.40,298.32 334.53,298.16 334.67,298.53 334.80,298.60 334.93,298.27 335.07,299.00 335.20,298.59 335.33,298.80 335.47,298.69 335.60,298.93 335.74,299.14 335.87,298.80 336.00,298.69 336.14,298.98 336.27,298.85 336.40,299.01 336.54,299.17 336.67,299.23 336.80,299.54 336.94,299.11 337.07,299.43 337.21,299.29 337.34,299.70 337.47,299.97 337.61,299.56 337.74,299.87 337.87,299.46 338.01,299.26 338.14,299.35 338.27,299.30 338.41,299.44 338.54,299.60 338.68,299.88 338.81,299.80 338.94,299.76 339.08,299.59 339.21,299.54 339.34,299.70 339.48,299.73 339.61,299.77 339.74,299.81 339.88,299.72 340.01,299.38 340.15,299.56 340.28,299.65 340.41,300.18 340.55,299.79 340.68,300.06 340.81,300.27 340.95,300.10 341.08,300.03 341.21,300.15 341.35,300.13 341.48,300.55 341.62,300.91 341.75,301.04 341.88,301.38 342.02,301.74 342.15,302.44 342.28,302.39 342.42,303.00 342.55,303.51 342.68,303.98 342.82,303.65 342.95,304.49 343.09,305.03 343.22,305.34 343.35,306.17 343.49,306.44 343.62,306.63 343.75,306.59 343.89,306.73 344.02,306.74 344.15,306.79 344.29,306.06 344.42,305.38 344.56,304.95 344.69,304.58 344.82,304.54 344.96,304.28 345.09,303.33 345.22,303.33 345.36,303.19 345.49,302.95 345.62,302.46 345.76,302.03 345.89,302.00 346.03,301.54 346.16,301.78 346.29,301.72 346.43,301.03 346.56,301.24 346.69,301.16 346.83,301.22 346.96,301.11 347.09,300.87 347.23,300.45 347.36,300.41 347.50,300.62 347.63,300.16 347.76,300.18 347.90,300.42 348.03,300.06 348.16,299.69 348.30,299.85 348.43,299.99 348.56,299.78 348.70,300.02 348.83,300.01 348.97,299.60 349.10,299.61 349.23,299.68 349.37,299.45 349.50,299.75 349.63,299.63 349.77,299.82 349.90,299.54 350.03,299.48 350.17,300.02 350.30,299.48 350.44,299.54 350.57,299.51 350.70,299.59 350.84,299.47 350.97,299.64 351.10,299.50 351.24,299.56 351.37,299.70 351.50,299.76 351.64,299.70 351.77,299.45 351.91,299.66 352.04,299.53 352.17,299.51 352.31,299.15 352.44,299.60 352.57,299.40 352.71,299.73 352.84,299.48 352.97,299.09 353.11,299.00 353.24,299.46 353.38,299.01 353.51,299.28 353.64,299.03 353.78,299.47 353.91,299.01 354.04,299.25 354.18,299.16 354.31,298.74 354.44,298.71 354.58,299.01 354.71,298.66 354.85,298.42 354.98,298.76 355.11,298.97 355.25,298.37 355.38,298.58 355.51,298.19 355.65,298.41 355.78,298.00 355.91,298.23 356.05,297.98 356.18,297.73 356.32,297.71 356.45,297.45 356.58,297.23 356.72,297.13 356.85,297.21 356.98,296.89 357.12,297.06 357.25,296.95 357.38,296.81 357.52,296.48 357.65,296.45 357.79,296.29 357.92,296.41 358.05,295.83 358.19,295.75 358.32,295.62 358.45,295.47 358.59,295.18 358.72,295.02 358.85,295.16 358.99,294.61 359.12,294.69 359.26,294.67 359.39,294.26 359.52,293.37 359.66,293.61 359.79,293.27 359.92,293.00 360.06,292.28 360.19,292.48 360.32,291.85 360.46,292.07 360.59,291.79 360.73,291.86 360.86,291.07 360.99,290.65 361.13,290.99 361.26,290.79 361.39,290.38 361.53,290.57 361.66,290.29 361.79,289.76 361.93,289.81 362.06,289.65 362.20,289.59 362.33,289.53 362.46,289.22 362.60,289.20 362.73,289.24 362.86,288.99 363.00,288.83 363.13,288.71 363.26,288.64 363.40,288.16 363.53,288.46 363.67,288.11 363.80,288.23 363.93,287.80 364.07,288.17 364.20,287.92 364.33,287.48 364.47,287.69 364.60,287.37 364.73,287.77 364.87,287.40 365.00,287.03 365.14,287.12 365.27,286.96 365.40,287.10 365.54,286.82 365.67,286.74 365.80,286.31 365.94,286.59 366.07,286.74 366.20,286.35 366.34,286.11 366.47,286.04 366.61,285.72 366.74,285.84 366.87,285.48 367.01,285.60 367.14,285.41 367.27,285.22 367.41,285.40 367.54,284.88 367.67,285.06 367.81,284.70 367.94,285.23 368.08,285.15 368.21,284.82 368.34,284.92 368.48,284.55 368.61,284.43 368.74,284.13 368.88,283.93 369.01,284.03 369.15,283.79 369.28,283.70 369.41,283.83 369.55,283.55 369.68,283.15 369.81,283.31 369.95,283.10 370.08,283.08 370.21,282.82 370.35,283.17 370.48,283.20 370.62,282.49 370.75,282.74 370.88,282.62 371.02,282.18 371.15,282.31 371.28,282.47 371.42,282.25 371.55,282.30 371.68,281.64 371.82,281.62 371.95,281.73 372.09,281.65 372.22,281.49 372.35,281.32 372.49,281.22 372.62,281.09 372.75,281.22 372.89,280.49 373.02,281.27 373.15,280.75 373.29,280.48 373.42,280.78 373.56,280.30 373.69,280.56 373.82,280.31 373.96,280.40 374.09,280.34 374.22,280.33 374.36,279.86 374.49,279.78 374.62,279.71 374.76,279.30 374.89,279.56 375.03,279.32 375.16,278.87 375.29,279.21 375.43,279.05 375.56,278.31 375.69,278.47 375.83,278.38 375.96,278.05 376.09,277.42 376.23,277.07 376.36,277.04 376.50,276.68 376.63,276.48 376.76,276.16 376.90,275.98 377.03,275.47 377.16,275.26 377.30,275.60 377.43,274.72 377.56,274.63 377.70,274.30 377.83,274.06 377.97,273.62 378.10,273.71 378.23,273.41 378.37,273.40 378.50,273.47 378.63,272.93 378.77,272.87 378.90,272.35 379.03,272.42 379.17,272.54 379.30,272.07 379.44,271.81 379.57,271.83 379.70,271.61 379.84,271.47 379.97,271.31 380.10,271.65 380.24,270.96 380.37,270.93 380.50,270.78 380.64,271.04 380.77,270.62 380.91,270.84 381.04,270.51 381.17,270.37 381.31,269.99 381.44,270.44 381.57,270.21 381.71,270.10 381.84,269.92 381.97,269.78 382.11,269.53 382.24,269.90 382.38,269.69 382.51,269.49 382.64,269.37 382.78,269.45 382.91,269.34 383.04,269.62 383.18,269.39 383.31,269.05 383.44,268.89 383.58,269.01 383.71,268.82 383.85,268.96 383.98,268.98 384.11,268.97 384.25,268.88 384.38,268.71 384.51,268.82 384.65,268.48 384.78,268.60 384.91,268.73 385.05,268.58 385.18,268.22 385.32,268.20 385.45,268.06 385.58,268.70 385.72,267.98 385.85,268.22 385.98,268.57 386.12,268.38 386.25,268.38 386.38,267.98 386.52,268.19 386.65,268.62 386.79,267.97 386.92,268.03 387.05,267.85 387.19,267.89 387.32,267.95 387.45,268.13 387.59,267.67 387.72,267.56 387.85,267.85 387.99,267.89 388.12,268.15 388.26,268.04 388.39,267.80 388.52,268.09 388.66,268.26 388.79,268.17 388.92,268.15 389.06,268.47 389.19,268.41 389.32,268.28 389.46,269.12 389.59,268.81 389.73,269.24 389.86,269.51 389.99,269.78 390.13,270.08 390.26,270.15 390.39,270.84 390.53,271.03 390.66,271.31 390.79,271.78 390.93,272.02 391.06,272.30 391.20,272.60 391.33,272.50 391.46,272.26 391.60,272.75 391.73,272.85 391.86,273.00 392.00,273.01 392.13,273.09 392.26,273.56 392.40,273.73 392.53,273.44 392.67,273.90 392.80,273.88 392.93,273.95 393.07,274.28 393.20,274.25 393.33,274.25 393.47,274.47 393.60,274.15 393.73,274.52 393.87,274.63 394.00,274.51 394.14,274.88 394.27,274.95 394.40,274.82 394.54,274.94 394.67,275.13 394.80,275.22 394.94,274.85 395.07,275.04 395.20,275.13 395.34,274.84 395.47,274.60 395.61,274.49 395.74,274.46 395.87,274.17 396.01,274.63 396.14,273.95 396.27,273.97 396.41,273.75 396.54,273.66 396.67,273.28 396.81,272.92 396.94,273.34 397.08,272.83 397.21,272.71 397.34,272.58 397.48,272.66 397.61,272.45 397.74,272.43 397.88,272.28 398.01,272.08 398.14,272.06 398.28,271.84 398.41,271.59 398.55,271.94 398.68,271.78 398.81,272.53 398.95,272.35 399.08,272.30 399.21,272.00 399.35,272.57 399.48,271.87 399.61,272.02 399.75,272.17 399.88,272.20 400.02,272.49 400.15,272.58 400.28,273.00 400.42,272.90 400.55,273.04 400.68,272.97 400.82,272.95 400.95,272.94 401.08,272.88 401.22,273.11 401.35,273.32 401.49,273.66 401.62,273.28 401.75,273.47 401.89,273.91 402.02,273.80 402.15,274.22 402.29,274.23 402.42,274.33 402.56,274.39 402.69,274.82 402.82,274.89 402.96,275.11 403.09,275.32 403.22,275.70 403.36,275.91 403.49,275.76 403.62,276.31 403.76,276.65 403.89,277.02 404.03,277.20 404.16,277.33 404.29,277.29 404.43,277.60 404.56,278.17 404.69,278.08 404.83,278.65 404.96,278.93 405.09,278.70 405.23,279.25 405.36,279.39 405.50,280.07 405.63,280.10 405.76,280.10 405.90,280.55 406.03,280.56 406.16,280.99 406.30,281.34 406.43,281.60 406.56,281.91 406.70,281.93 406.83,282.01 406.97,282.57 407.10,282.72 407.23,283.00 407.37,283.81 407.50,283.85 407.63,283.80 407.77,283.77 407.90,284.00 408.03,284.52 408.17,284.84 408.30,284.75 408.44,285.00 408.57,285.18 408.70,285.49 408.84,285.05 408.97,285.60 409.10,285.78 409.24,286.03 409.37,286.05 409.50,285.88 409.64,286.12 409.77,286.07 409.91,286.54 410.04,286.68 410.17,286.88 410.31,286.73 410.44,286.84 410.57,287.53 410.71,287.42 410.84,287.90 410.97,287.82 411.11,287.64 411.24,288.30 411.38,288.62 411.51,288.51 411.64,288.46 411.78,289.23 411.91,289.32 412.04,289.66 412.18,289.32 412.31,290.19 412.44,289.79 412.58,290.40 412.71,290.96 412.85,290.62 412.98,290.81 413.11,291.26 413.25,291.84 413.38,291.98 413.51,291.66 413.65,292.09 413.78,292.10 413.91,292.11 414.05,292.19 414.18,292.03 414.32,292.38 414.45,292.46 414.58,292.82 414.72,292.49 414.85,291.84 414.98,292.10 415.12,292.42 415.25,292.37 415.38,291.99 415.52,292.33 415.65,292.28 415.79,292.33 415.92,292.31 416.05,292.50 416.19,292.59 416.32,292.41 416.45,292.02 416.59,292.04 416.72,292.05 416.85,292.13 416.99,292.02 417.12,291.98 417.26,291.82 417.39,292.14 417.52,292.05 417.66,292.00 417.79,291.72 417.92,291.74 418.06,291.37 418.19,291.23 418.32,291.17 418.46,291.20 418.59,290.82 418.73,290.34 418.86,290.25 418.99,289.93 419.13,289.45 419.26,288.84 419.39,288.53 419.53,288.02 419.66,287.67 419.79,287.40 419.93,287.31 420.06,287.31 420.20,287.09 420.33,286.78 420.46,286.48 420.60,286.43 420.73,286.38 420.86,286.63 421.00,285.82 421.13,286.41 421.26,285.95 421.40,286.35 421.53,286.62 421.67,286.18 421.80,285.92 421.93,286.65 422.07,286.70 422.20,286.51 422.33,286.67 422.47,286.27 422.60,286.67 422.73,286.78 422.87,286.56 423.00,286.48 423.14,286.66 423.27,286.60 423.40,286.19 423.54,286.56 423.67,286.37 423.80,286.19 423.94,286.35 424.07,286.20 424.20,286.09 424.34,285.75 424.47,285.93 424.61,285.45 424.74,285.55 424.87,285.13 425.01,285.03 425.14,285.35 425.27,285.13 425.41,285.05 425.54,285.03 425.67,284.86 425.81,284.49 425.94,284.56 426.08,284.41 426.21,284.19 426.34,284.13 426.48,283.95 426.61,283.76 426.74,283.69 426.88,283.67 427.01,283.90 427.14,283.19 427.28,283.32 427.41,282.78 427.55,283.24 427.68,282.71 427.81,282.65 427.95,282.72 428.08,282.50 428.21,281.84 428.35,282.08 428.48,281.76 428.61,281.76 428.75,281.49 428.88,281.43 429.02,281.16 429.15,280.90 429.28,280.98 429.42,280.25 429.55,280.29 429.68,280.01 429.82,279.98 429.95,279.74 430.08,279.61 430.22,279.36 430.35,279.18 430.49,278.76 430.62,278.90 430.75,278.79 430.89,278.42 431.02,278.22 431.15,278.03 431.29,278.29 431.42,277.79 431.55,277.63 431.69,277.28 431.82,277.04 431.96,276.75 432.09,277.03 432.22,276.18 432.36,276.37 432.49,276.11 432.62,275.87 432.76,275.42 432.89,275.30 433.02,275.57 433.16,275.07 433.29,275.22 433.43,275.02 433.56,274.85 433.69,274.73 433.83,274.19 433.96,274.18 434.09,274.25 434.23,273.71 434.36,274.15 434.49,273.55 434.63,273.50 434.76,273.16 434.90,273.29 435.03,272.93 435.16,272.89 435.30,272.58 435.43,272.91 435.56,272.22 435.70,272.52 435.83,272.36 435.97,272.30 436.10,271.90 436.23,272.22 436.37,272.12 436.50,271.88 436.63,271.84 436.77,271.68 436.90,271.79 437.03,271.45 437.17,271.70 437.30,271.65 437.44,271.27 437.57,271.03 437.70,271.54 437.84,271.55 437.97,271.85 438.10,271.65 438.24,271.58 438.37,271.45 438.50,271.75 438.64,271.70 438.77,271.65 438.91,271.91 439.04,272.20 439.17,272.07 439.31,271.90 439.44,272.23 439.57,272.01 439.71,271.97 439.84,272.44 439.97,272.28 440.11,272.66 440.24,272.55 440.38,272.39 440.51,272.65 440.64,272.92 440.78,272.68 440.91,272.57 441.04,272.71 441.18,272.74 441.31,272.73 441.44,272.78 441.58,273.18 441.71,273.39 441.85,273.16 441.98,273.46 442.11,273.55 442.25,273.77 442.38,273.46 442.51,273.50 442.65,273.72 442.78,273.72 442.91,273.82 443.05,274.09 443.18,273.81 443.32,274.00 443.45,273.82 443.58,274.05 443.72,274.02 443.85,274.07 443.98,274.24 444.12,274.27 444.25,274.50 444.38,274.66 444.52,274.27 444.65,274.83 444.79,274.26 444.92,274.82 445.05,274.98 445.19,274.77 445.32,274.92 445.45,274.87 445.59,275.27 445.72,274.52 445.85,275.02 445.99,274.88 446.12,275.36 446.26,275.63 446.39,275.66 446.52,275.61 446.66,275.57 446.79,275.41 446.92,275.85 447.06,275.77 447.19,275.51 447.32,275.46 447.46,275.62 447.59,276.00 447.73,276.06 447.86,276.16 447.99,275.72 448.13,275.83 448.26,276.20 448.39,276.00 448.53,276.13 448.66,275.74 448.79,275.95 448.93,276.05 449.06,276.01 449.20,276.02 449.33,275.80 449.46,276.48 449.60,276.21 449.73,275.91 449.86,276.45 450.00,276.27 450.13,276.43 450.26,276.28 450.40,276.19 450.53,276.22 450.67,276.47 450.80,276.59 450.93,276.57 451.07,276.64 451.20,276.79 451.33,276.64 451.47,276.83 451.60,276.89 451.73,276.78 451.87,276.76 452.00,276.74 452.14,276.64 452.27,276.63 452.40,277.27 452.54,277.06 452.67,277.02 452.80,277.51 452.94,277.46 453.07,277.34 453.20,277.60 453.34,277.43 453.47,277.61 453.61,277.97 453.74,277.88 453.87,277.68 454.01,277.94 454.14,278.10 454.27,277.90 454.41,277.89 454.54,278.41 454.67,278.02 454.81,277.86 454.94,278.20 455.08,278.67 455.21,278.37 455.34,278.47 455.48,277.86 455.61,278.20 455.74,278.56 455.88,278.24 456.01,278.58 456.14,278.39 456.28,278.36 456.41,278.58 456.55,278.11 456.68,278.08 456.81,278.14 456.95,278.11 457.08,277.67 457.21,278.19 457.35,277.93 457.48,277.78 457.61,277.87 457.75,277.60 457.88,277.85 458.02,277.55 458.15,277.61 458.28,277.22 458.42,277.28 458.55,277.34 458.68,277.02 458.82,277.03 458.95,277.10 459.08,277.28 459.22,277.16 459.35,277.14 459.49,276.97 459.62,277.04 459.75,277.12 459.89,276.80 460.02,276.80 460.15,276.79 460.29,276.22 460.42,276.55 460.55,276.61 460.69,276.63 460.82,276.37 460.96,276.58 461.09,276.21 461.22,276.26 461.36,276.58 461.49,275.93 461.62,276.14 461.76,276.08 461.89,276.05 462.02,275.92 462.16,276.11 462.29,275.73 462.43,275.64 462.56,275.96 462.69,275.58 462.83,275.86 462.96,275.75 463.09,275.56 463.23,275.59 463.36,275.60 463.49,275.67 463.63,275.41 463.76,275.45 463.90,275.16 464.03,275.36 464.16,274.99 464.30,275.32 464.43,275.20 464.56,275.67 464.70,275.47 464.83,275.15 464.96,275.33 465.10,275.17 465.23,274.85 465.37,274.57 465.50,275.25 465.63,275.08 465.77,274.59 465.90,275.08 466.03,275.12 466.17,274.79 466.30,275.07 466.43,274.57 466.57,274.86 466.70,274.91 466.84,275.06 466.97,274.98 467.10,274.95 467.24,275.02 467.37,274.78 467.50,275.21 467.64,274.86 467.77,275.09 467.90,274.95 468.04,274.92 468.17,275.10 468.31,275.10 468.44,275.31 468.57,275.28 468.71,274.99 468.84,275.25 468.97,275.22 469.11,275.09 469.24,275.09 469.38,275.43 469.51,275.34 469.64,275.26 469.78,275.61 469.91,275.79 470.04,275.91 470.18,275.80 470.31,276.10 470.44,276.67 470.58,276.45 470.71,276.75 470.85,277.51 470.98,277.35 471.11,277.42 471.25,277.37 471.38,278.06 471.51,277.95 471.65,278.45 471.78,278.50 471.91,278.54 472.05,279.40 472.18,279.22 472.32,279.58 472.45,279.68 472.58,279.50 472.72,279.77 472.85,279.76 472.98,280.10 473.12,280.06 473.25,279.96 473.38,280.42 473.52,280.24 473.65,280.28 473.79,280.07 473.92,280.34 474.05,280.00 474.19,280.42 474.32,280.16 474.45,280.40 474.59,280.33 474.72,280.44 474.85,280.47 474.99,280.38 475.12,280.38 475.26,280.08 475.39,279.97 475.52,280.58 475.66,280.41 475.79,279.95 475.92,280.57 476.06,279.98 476.19,280.14 476.32,280.02 476.46,279.84 476.59,279.81 476.73,279.27 476.86,279.37 476.99,279.15 477.13,279.03 477.26,278.75 477.39,278.45 477.53,278.19 477.66,278.27 477.79,277.66 477.93,277.62 478.06,277.33 478.20,276.95 478.33,276.75 478.46,276.46 478.60,275.90 478.73,275.69 478.86,275.57 479.00,274.49 479.13,274.09 479.26,273.39 479.40,273.26 479.53,271.85 479.67,271.37 479.80,270.78 479.93,269.68 480.07,269.12 480.20,268.28 480.33,267.38 480.47,266.82 480.60,266.09 480.73,265.04 480.87,264.26 481.00,263.45 481.14,262.64 481.27,261.26 481.40,260.73 481.54,259.56 481.67,258.37 481.80,257.63 481.94,256.95 482.07,255.93 482.20,254.71 482.34,254.33 482.47,253.21 482.61,252.28 482.74,251.37 482.87,250.76 483.01,249.80 483.14,249.29 483.27,248.29 483.41,247.47 483.54,246.34 483.67,245.08 483.81,244.38 483.94,242.92 484.08,241.91 484.21,240.74 484.34,239.42 484.48,238.65 484.61,237.11 484.74,236.62 484.88,235.14 485.01,234.38 485.14,233.36 485.28,231.81 485.41,230.68 485.55,229.81 485.68,228.42 485.81,227.17 485.95,225.57 486.08,224.44 486.21,223.73 486.35,222.76 486.48,221.19 486.61,220.06 486.75,219.23 486.88,218.30 487.02,217.41 487.15,216.33 487.28,215.18 487.42,215.03 487.55,213.84 487.68,213.41 487.82,212.02 487.95,211.78 488.08,210.92 488.22,210.16 488.35,209.96 488.49,209.40 488.62,208.41 488.75,208.05 488.89,207.15 489.02,206.74 489.15,206.37 489.29,205.95 489.42,205.81 489.55,205.14 489.69,205.29 489.82,205.01 489.96,204.51 490.09,204.08 490.22,203.62 490.36,203.90 490.49,203.62" fill="none" stroke="#000" stroke-width="2.0" stroke-dasharray="1.820 5.460" stroke-dashoffset="0" stroke-linejoin="round"/>
<path d="M490.49,203.62 490.62,203.68 490.76,203.39 490.89,203.62 491.02,203.68 491.16,203.82 491.29,204.04 491.43,204.24 491.56,204.60 491.69,204.50 491.83,205.07 491.96,205.24 492.09,205.40 492.23,205.59 492.36,206.41 492.49,206.55 492.63,206.83 492.76,207.42 492.90,207.91 493.03,208.33 493.16,208.69 493.30,209.52 493.43,209.98 493.56,210.50 493.70,211.31 493.83,211.44 493.96,212.10 494.10,212.93 494.23,213.68 494.37,214.26 494.50,214.92 494.63,214.98 494.77,216.15 494.90,216.78 495.03,217.49 495.17,217.88 495.30,218.79 495.43,219.57 495.57,220.39 495.70,220.82 495.84,221.22 495.97,222.21 496.10,223.05 496.24,223.76 496.37,224.76 496.50,225.08 496.64,225.65 496.77,226.46 496.90,227.46 497.04,227.93 497.17,228.66 497.31,229.51 497.44,230.75 497.57,231.43 497.71,232.24 497.84,233.44 497.97,234.41 498.11,235.12 498.24,236.55 498.37,237.52 498.51,238.17 498.64,239.49 498.78,240.99 498.91,242.29 499.04,243.39 499.18,244.46 499.31,245.84 499.44,246.51 499.58,248.05 499.71,248.95 499.84,249.99 499.98,250.84 500.11,252.07 500.25,252.35 500.38,253.53 500.51,254.70 500.65,255.30 500.78,256.57 500.91,257.17 501.05,257.72 501.18,258.85 501.31,259.34 501.45,260.17 501.58,260.63 501.72,261.31 501.85,262.23 501.98,262.76 502.12,263.22 502.25,263.80 502.38,264.69 502.52,265.47 502.65,265.49 502.79,266.31 502.92,266.10 503.05,266.88 503.19,267.76 503.32,268.39 503.45,268.53 503.59,269.06 503.72,269.43 503.85,269.99 503.99,269.99 504.12,270.73 504.26,270.92 504.39,271.33 504.52,271.79 504.66,272.14 504.79,272.41 504.92,272.89 505.06,273.12 505.19,273.98 505.32,274.19 505.46,274.33 505.59,275.07 505.73,275.36 505.86,275.54 505.99,275.67 506.13,276.16 506.26,276.55 506.39,277.04 506.53,277.06 506.66,277.31 506.79,278.20 506.93,278.34 507.06,278.46 507.20,278.55 507.33,279.16 507.46,279.62 507.60,279.89 507.73,280.25 507.86,280.45 508.00,281.03 508.13,281.06 508.26,281.46 508.40,281.83 508.53,282.19 508.67,283.08 508.80,282.75 508.93,283.51 509.07,283.65 509.20,283.97 509.33,284.61 509.47,284.64 509.60,285.29 509.73,286.12 509.87,285.98 510.00,286.42 510.14,286.49 510.27,287.06 510.40,286.98 510.54,287.62 510.67,287.86 510.80,288.61 510.94,288.45 511.07,288.69 511.20,288.93 511.34,289.09 511.47,289.76 511.61,290.17 511.74,290.08 511.87,290.56 512.01,290.61 512.14,291.02 512.27,291.28 512.41,291.16 512.54,291.53 512.67,292.12 512.81,291.79 512.94,292.40 513.08,292.56 513.21,292.68 513.34,293.10 513.48,293.38 513.61,293.65 513.74,293.24 513.88,294.32 514.01,294.11 514.14,294.62 514.28,294.60 514.41,294.71 514.55,295.02 514.68,295.86 514.81,295.74 514.95,295.54 515.08,295.84 515.21,296.20 515.35,296.26 515.48,296.33 515.61,296.44 515.75,296.42 515.88,296.93 516.02,297.15 516.15,297.52 516.28,297.12 516.42,297.50 516.55,297.52 516.68,297.92 516.82,297.79 516.95,297.81 517.08,297.73 517.22,298.33 517.35,298.34 517.49,298.63 517.62,298.39 517.75,299.10 517.89,298.51 518.02,298.81 518.15,298.83 518.29,299.00 518.42,298.77 518.55,298.62 518.69,298.60 518.82,298.95 518.96,298.78 519.09,298.79 519.22,298.51 519.36,298.65 519.49,298.61 519.62,298.62 519.76,298.14 519.89,298.20 520.02,298.62 520.16,298.12 520.29,298.10 520.43,297.95 520.56,297.64 520.69,297.63 520.83,297.82 520.96,297.52 521.09,297.97 521.23,297.16 521.36,296.98 521.49,297.20 521.63,296.94 521.76,297.36 521.90,296.90 522.03,296.98 522.16,296.48 522.30,296.78 522.43,296.65 522.56,296.65 522.70,296.32 522.83,296.25 522.96,296.05 523.10,296.06 523.23,295.66 523.37,295.72 523.50,295.36 523.63,295.47 523.77,295.14 523.90,294.93 524.03,294.79 524.17,295.09 524.30,294.35 524.43,294.24 524.57,294.54 524.70,294.10 524.84,294.09 524.97,293.97 525.10,294.42 525.24,293.72 525.37,293.60 525.50,293.56 525.64,293.59 525.77,293.54 525.90,293.04 526.04,293.32 526.17,293.52 526.31,292.67 526.44,293.04 526.57,292.97" fill="none" stroke="#000" stroke-width="2.0" stroke-dasharray="1.820 5.460" stroke-dashoffset="0" stroke-linejoin="round"/>
<path d="M117.15,101.50 117.28,103.69 117.42,106.00 117.55,108.02 117.68,110.92 117.82,113.12 117.95,115.18 118.09,117.56 118.22,119.68 118.35,121.69 118.49,123.96 118.62,125.76 118.75,127.69 118.89,129.52 119.02,131.56 119.15,133.35 119.29,135.31 119.42,137.03 119.56,139.05 119.69,140.88 119.82,143.17 119.96,145.25 120.09,147.54 120.22,149.92 120.36,152.12 120.49,154.77 120.62,157.27 120.76,158.97 120.89,161.06 121.03,163.06 121.16,165.30 121.29,167.08 121.43,169.07 121.56,170.83 121.69,172.52 121.83,174.24 121.96,175.84 122.09,177.59 122.23,178.85 122.36,180.44 122.50,181.96 122.63,183.55 122.76,184.53 122.90,185.81 123.03,187.17 123.16,188.65 123.30,189.72 123.43,191.14 123.56,191.86 123.70,193.42 123.83,194.50 123.97,195.22 124.10,196.47 124.23,197.61 124.37,198.42 124.50,199.47 124.63,200.55 124.77,201.11 124.90,201.83 125.03,202.53 125.17,203.47 125.30,204.07 125.44,204.78 125.57,205.48 125.70,206.27 125.84,206.70 125.97,207.31 126.10,207.86 126.24,209.04 126.37,209.57 126.50,210.46 126.64,210.96 126.77,211.59 126.91,212.51 127.04,213.23 127.17,213.88 127.31,214.77 127.44,216.00 127.57,216.69 127.71,217.59 127.84,218.41 127.97,219.27 128.11,220.42 128.24,221.21 128.38,222.04 128.51,223.04 128.64,223.84 128.78,224.87 128.91,225.88 129.04,226.47 129.18,227.64 129.31,228.21 129.44,229.18 129.58,229.89 129.71,230.83 129.85,231.71 129.98,232.49 130.11,233.30 130.25,234.16 130.38,234.98 130.51,235.73 130.65,236.77 130.78,237.71 130.91,238.62 131.05,239.43 131.18,240.52 131.32,241.06 131.45,241.79 131.58,242.96 131.72,243.40 131.85,244.53 131.98,245.12 132.12,246.17 132.25,246.73 132.38,248.02 132.52,248.80 132.65,249.63 132.79,250.98 132.92,251.85 133.05,252.75 133.19,253.64 133.32,254.72 133.45,255.66 133.59,256.70 133.72,257.61 133.85,258.29 133.99,259.17 134.12,260.04 134.26,260.80 134.39,261.78 134.52,262.75 134.66,263.79 134.79,264.84 134.92,265.55 135.06,266.77 135.19,267.69 135.33,269.10 135.46,269.87 135.59,270.99 135.73,271.82 135.86,272.82 135.99,273.93 136.13,274.80 136.26,275.84 136.39,276.50 136.53,277.75 136.66,278.46 136.80,279.77 136.93,280.44 137.06,281.61 137.20,282.26 137.33,283.54 137.46,284.38 137.60,285.47 137.73,286.57 137.86,287.53 138.00,288.60 138.13,289.63 138.27,290.54 138.40,291.32 138.53,292.01 138.67,292.93 138.80,293.85 138.93,294.41 139.07,295.64 139.20,296.34 139.33,297.18 139.47,298.21 139.60,299.03 139.74,299.83 139.87,300.51 140.00,301.55 140.14,302.41 140.27,303.07 140.40,304.17 140.54,304.93 140.67,305.44 140.80,306.60 140.94,307.25 141.07,308.41 141.21,309.13 141.34,309.57 141.47,310.25 141.61,311.02 141.74,311.65 141.87,312.56 142.01,313.04 142.14,313.38 142.27,313.89 142.41,313.85 142.54,314.44 142.68,314.74 142.81,314.80 142.94,314.91 143.08,315.27 143.21,315.62 143.34,315.52 143.48,315.47 143.61,315.95 143.74,315.60 143.88,316.03 144.01,315.97 144.15,316.26 144.28,316.08 144.41,316.45 144.55,316.36 144.68,316.12 144.81,316.12 144.95,316.39 145.08,316.64 145.21,316.50 145.35,316.51 145.48,316.48 145.62,316.63 145.75,316.58 145.88,316.57 146.02,316.40 146.15,316.69 146.28,316.71 146.42,316.32 146.55,316.81 146.68,316.57 146.82,316.37 146.95,316.14 147.09,316.46 147.22,316.40 147.35,316.19 147.49,315.96 147.62,316.29 147.75,315.96 147.89,315.88 148.02,316.23 148.15,316.00 148.29,315.69 148.42,315.34 148.56,315.32 148.69,314.73 148.82,314.88 148.96,314.56 149.09,314.28 149.22,314.02 149.36,314.10 149.49,313.82 149.62,313.61 149.76,313.49 149.89,313.05 150.03,312.79 150.16,312.51 150.29,312.49 150.43,312.42 150.56,312.05 150.69,311.92 150.83,311.42 150.96,311.27 151.09,310.97 151.23,310.65 151.36,310.84 151.50,310.45 151.63,309.99 151.76,309.77 151.90,309.65 152.03,309.25 152.16,309.33 152.30,308.90 152.43,308.86 152.56,308.61 152.70,308.52 152.83,308.25 152.97,308.06 153.10,307.99 153.23,307.87 153.37,307.77 153.50,307.66 153.63,307.70 153.77,307.43 153.90,307.09 154.03,307.04 154.17,306.63 154.30,306.70 154.44,306.32 154.57,305.79 154.70,305.79 154.84,305.49 154.97,304.67 155.10,304.59 155.24,304.25 155.37,303.66 155.50,303.37 155.64,302.96 155.77,302.73 155.91,302.25 156.04,302.14 156.17,301.25 156.31,300.96 156.44,300.29 156.57,299.75 156.71,298.97 156.84,298.26 156.97,297.81 157.11,297.41 157.24,296.92 157.38,296.19 157.51,295.59 157.64,294.79 157.78,294.50 157.91,293.83 158.04,292.93 158.18,292.37 158.31,291.61 158.44,291.36 158.58,290.63 158.71,290.01 158.85,289.56 158.98,289.07 159.11,288.47 159.25,287.87 159.38,287.40 159.51,286.89 159.65,286.77 159.78,286.62 159.91,285.69 160.05,285.60 160.18,285.32 160.32,284.83 160.45,284.72 160.58,284.27 160.72,284.34 160.85,283.85 160.98,283.72 161.12,283.59 161.25,283.24 161.38,282.86 161.52,282.86 161.65,282.88 161.79,282.60 161.92,282.50 162.05,282.16 162.19,282.19 162.32,282.12 162.45,281.89 162.59,282.01 162.72,281.59 162.85,281.35 162.99,281.15 163.12,281.43 163.26,281.16 163.39,281.22 163.52,281.06 163.66,281.15 163.79,281.04 163.92,280.77 164.06,280.83 164.19,280.92 164.32,280.57 164.46,280.94 164.59,280.91 164.73,280.88 164.86,280.73 164.99,280.82 165.13,280.65 165.26,280.85 165.39,280.80 165.53,280.94 165.66,280.91 165.79,281.09 165.93,281.29 166.06,281.02 166.20,281.43 166.33,281.13 166.46,281.24 166.60,281.69 166.73,281.89 166.86,282.17 167.00,282.11 167.13,282.59 167.26,282.89 167.40,283.34 167.53,283.45 167.67,283.85 167.80,283.94 167.93,284.36 168.07,284.61 168.20,285.06 168.33,285.09 168.47,285.36 168.60,285.79 168.74,286.17 168.87,286.16 169.00,286.33 169.14,286.39 169.27,286.73 169.40,286.78 169.54,287.07 169.67,286.98 169.80,286.91 169.94,287.06 170.07,287.09 170.21,287.15 170.34,287.58 170.47,287.60 170.61,287.40 170.74,287.90 170.87,287.77 171.01,287.68 171.14,287.94 171.27,287.96 171.41,287.94 171.54,287.86 171.68,288.22 171.81,288.34 171.94,288.02 172.08,288.56 172.21,288.66 172.34,288.61 172.48,288.80 172.61,288.87 172.74,288.92 172.88,289.13 173.01,289.52 173.15,289.30 173.28,289.72 173.41,289.91 173.55,290.00 173.68,290.26 173.81,290.37 173.95,290.70 174.08,291.09 174.21,291.41 174.35,291.52 174.48,292.36 174.62,292.13 174.75,292.51 174.88,292.72 175.02,292.96 175.15,293.43 175.28,293.41 175.42,293.88 175.55,294.09 175.68,294.02 175.82,294.57 175.95,294.58 176.09,295.30 176.22,295.10 176.35,295.24 176.49,295.29 176.62,295.54 176.75,295.77 176.89,295.81 177.02,295.82 177.15,295.90 177.29,295.92 177.42,296.06 177.56,295.49 177.69,295.49 177.82,295.25 177.96,294.95 178.09,294.75 178.22,294.55 178.36,294.51 178.49,294.11 178.62,293.78 178.76,293.66 178.89,293.34 179.03,293.00 179.16,292.82 179.29,292.40 179.43,292.35 179.56,292.06 179.69,291.66 179.83,291.25 179.96,291.33 180.09,290.81 180.23,290.90 180.36,290.06 180.50,289.95 180.63,289.44 180.76,289.22 180.90,288.99 181.03,288.46 181.16,288.26 181.30,288.02 181.43,287.75 181.56,287.56 181.70,287.39 181.83,287.14 181.97,286.85 182.10,286.58 182.23,286.30 182.37,286.19 182.50,286.07 182.63,286.09 182.77,285.79 182.90,285.53 183.03,285.66 183.17,285.33 183.30,285.21 183.44,285.17 183.57,285.15 183.70,284.64 183.84,284.72 183.97,284.81 184.10,284.65 184.24,284.49 184.37,284.47 184.50,284.67 184.64,284.35 184.77,284.47 184.91,284.43 185.04,284.23 185.17,284.33 185.31,284.19 185.44,284.16 185.57,284.09 185.71,284.37 185.84,284.21 185.97,284.21 186.11,284.15 186.24,284.59 186.38,284.48 186.51,284.40 186.64,284.37 186.78,284.31 186.91,284.62 187.04,284.69 187.18,284.53 187.31,284.97 187.44,285.02 187.58,284.92 187.71,285.14 187.85,285.36 187.98,285.67 188.11,285.88 188.25,285.92 188.38,286.61 188.51,286.67 188.65,287.00 188.78,287.16 188.91,287.08 189.05,287.23 189.18,287.32 189.32,287.34 189.45,287.20 189.58,287.11 189.72,287.15 189.85,286.98 189.98,286.95 190.12,286.67 190.25,286.89 190.38,286.66 190.52,286.64 190.65,286.63 190.79,286.61 190.92,286.75 191.05,286.44 191.19,286.13 191.32,286.26 191.45,286.06 191.59,286.10 191.72,285.85 191.85,285.74 191.99,285.66 192.12,285.54 192.26,285.27 192.39,285.32 192.52,285.30 192.66,285.36 192.79,285.05 192.92,284.93 193.06,284.96 193.19,284.85 193.32,284.90 193.46,284.66 193.59,284.48 193.73,284.58 193.86,284.52 193.99,284.16 194.13,284.16 194.26,283.83 194.39,283.94 194.53,283.79 194.66,283.80 194.79,283.69 194.93,283.65 195.06,283.58 195.20,283.59 195.33,283.48 195.46,283.29 195.60,283.11 195.73,283.39 195.86,283.34 196.00,283.00 196.13,283.07 196.26,282.71 196.40,282.63 196.53,282.74 196.67,282.92 196.80,282.50 196.93,282.46 197.07,282.74 197.20,282.19 197.33,282.48 197.47,282.41 197.60,282.25 197.73,282.26 197.87,282.55 198.00,281.97 198.14,282.04 198.27,282.01 198.40,281.92 198.54,281.79 198.67,282.17 198.80,281.96 198.94,281.67 199.07,281.80 199.20,281.95 199.34,281.96 199.47,281.71 199.61,281.92 199.74,281.99 199.87,282.04 200.01,282.08 200.14,281.82 200.27,282.39 200.41,282.22 200.54,282.51 200.67,282.73 200.81,282.39 200.94,282.33 201.08,282.72 201.21,282.67 201.34,282.74 201.48,282.77 201.61,283.27 201.74,283.09 201.88,283.09 202.01,283.35 202.15,283.39 202.28,283.73 202.41,283.81 202.55,283.91 202.68,284.33 202.81,284.37 202.95,284.78 203.08,285.08 203.21,285.09 203.35,285.30 203.48,285.68 203.62,286.03 203.75,286.17 203.88,286.46 204.02,286.70 204.15,287.02 204.28,287.32 204.42,287.39 204.55,287.67 204.68,287.98 204.82,288.11 204.95,288.44 205.09,288.71 205.22,288.83 205.35,288.95 205.49,289.12 205.62,289.67 205.75,289.74 205.89,289.65 206.02,289.87 206.15,290.44 206.29,290.57 206.42,290.56 206.56,290.89 206.69,290.70 206.82,291.09 206.96,291.37 207.09,291.19 207.22,291.52 207.36,291.92 207.49,292.15 207.62,292.08 207.76,292.38 207.89,292.74 208.03,292.63 208.16,292.67 208.29,293.02 208.43,293.14 208.56,293.54 208.69,293.55 208.83,293.59 208.96,294.21 209.09,293.98 209.23,294.29 209.36,294.50 209.50,294.70 209.63,294.81 209.76,295.07 209.90,295.19 210.03,295.22 210.16,295.61 210.30,295.84 210.43,296.07 210.56,296.34 210.70,296.46 210.83,296.96 210.97,297.22 211.10,296.91 211.23,297.43 211.37,297.54 211.50,297.47 211.63,298.08 211.77,298.12 211.90,298.32 212.03,298.44 212.17,298.82 212.30,298.98 212.44,298.96 212.57,299.13 212.70,299.13 212.84,299.27 212.97,299.25 213.10,299.45 213.24,299.43 213.37,299.66 213.50,299.80 213.64,299.80 213.77,299.98 213.91,300.24 214.04,299.61 214.17,299.95 214.31,299.89 214.44,299.93 214.57,299.82 214.71,300.02 214.84,299.97 214.97,299.91 215.11,299.94 215.24,299.87 215.38,299.60 215.51,300.04 215.64,299.81 215.78,299.68 215.91,299.80 216.04,299.62 216.18,299.35 216.31,299.72 216.44,299.30 216.58,299.44 216.71,299.42 216.85,299.52 216.98,299.43 217.11,299.22 217.25,299.01 217.38,298.97 217.51,299.09 217.65,299.09 217.78,298.81 217.91,298.54 218.05,298.66 218.18,298.35 218.32,298.23 218.45,298.12 218.58,298.12 218.72,297.95 218.85,297.93 218.98,297.84 219.12,297.60 219.25,297.08 219.38,297.04 219.52,297.18 219.65,297.02 219.79,297.21 219.92,296.79 220.05,296.66 220.19,296.70 220.32,296.61 220.45,296.33 220.59,296.34 220.72,296.03 220.85,295.97 220.99,296.19 221.12,295.74 221.26,295.99 221.39,295.87 221.52,295.81 221.66,295.75 221.79,295.63 221.92,295.19 222.06,295.28 222.19,295.29 222.32,295.45 222.46,295.12 222.59,295.15 222.73,295.17 222.86,295.39 222.99,295.00 223.13,295.01 223.26,295.30 223.39,294.94 223.53,295.31 223.66,295.24 223.79,295.13 223.93,295.34 224.06,295.32 224.20,295.54 224.33,295.63 224.46,295.86 224.60,295.72 224.73,295.80 224.86,295.78 225.00,295.93 225.13,296.15 225.26,295.81 225.40,296.24 225.53,296.14 225.67,296.29 225.80,296.40 225.93,296.54 226.07,296.52 226.20,296.50 226.33,296.67 226.47,296.70 226.60,296.74 226.73,296.87 226.87,297.04 227.00,297.02 227.14,297.09 227.27,296.97 227.40,297.21 227.54,297.05 227.67,297.49 227.80,297.35 227.94,297.74 228.07,298.07 228.20,297.68 228.34,298.02 228.47,297.98 228.61,297.94 228.74,298.00 228.87,298.30 229.01,298.52 229.14,298.48 229.27,298.33 229.41,298.52 229.54,298.75 229.67,299.10 229.81,299.08 229.94,299.22 230.08,299.48 230.21,299.43 230.34,299.59 230.48,299.72 230.61,299.64 230.74,300.11 230.88,300.25 231.01,300.49 231.14,300.34 231.28,300.54 231.41,300.94 231.55,301.01 231.68,301.31 231.81,301.15 231.95,301.44 232.08,301.47 232.21,301.75 232.35,301.78 232.48,302.06 232.61,302.27 232.75,302.35 232.88,302.12 233.02,302.63 233.15,302.68 233.28,302.59 233.42,302.73 233.55,302.97 233.68,303.16 233.82,303.13 233.95,303.07 234.08,303.45 234.22,303.54 234.35,303.97 234.49,303.55 234.62,304.19 234.75,304.19 234.89,304.10 235.02,304.39 235.15,304.29 235.29,304.52 235.42,304.39 235.56,304.62 235.69,304.58 235.82,304.62 235.96,304.92 236.09,304.99 236.22,305.29 236.36,305.51 236.49,305.44 236.62,305.60 236.76,305.75 236.89,305.63 237.03,306.03 237.16,306.13 237.29,306.26 237.43,306.25 237.56,306.27 237.69,306.65 237.83,306.87 237.96,307.15 238.09,307.26 238.23,307.44 238.36,307.43 238.50,307.67 238.63,307.62 238.76,307.87 238.90,308.04 239.03,308.42 239.16,308.21 239.30,308.12 239.43,308.62 239.56,308.44 239.70,308.66 239.83,308.75 239.97,308.78 240.10,309.20 240.23,309.21 240.37,309.15 240.50,309.35 240.63,309.39 240.77,309.64 240.90,309.61 241.03,309.66 241.17,309.78 241.30,309.92 241.44,310.12 241.57,310.05 241.70,310.27 241.84,310.44 241.97,310.81 242.10,310.69 242.24,310.25 242.37,310.69 242.50,310.80 242.64,310.99 242.77,311.25 242.91,311.22 243.04,310.87 243.17,311.32 243.31,311.37 243.44,311.48 243.57,311.69 243.71,311.42 243.84,311.79 243.97,311.47 244.11,311.77 244.24,311.87 244.38,312.19 244.51,311.83 244.64,311.75 244.78,312.14 244.91,312.00 245.04,312.36 245.18,312.10 245.31,312.12 245.44,312.46 245.58,312.34 245.71,312.51 245.85,312.21 245.98,312.68 246.11,312.39 246.25,312.62 246.38,312.39 246.51,312.33 246.65,312.52 246.78,312.59 246.91,312.79 247.05,312.61 247.18,312.66 247.32,312.63 247.45,312.95 247.58,312.36 247.72,312.61 247.85,312.37 247.98,312.38 248.12,312.20 248.25,312.38 248.38,311.97 248.52,311.88 248.65,311.95 248.79,311.73 248.92,311.89 249.05,311.82 249.19,311.48 249.32,311.57 249.45,311.24 249.59,311.20 249.72,311.06 249.85,311.17 249.99,310.74 250.12,310.44 250.26,310.25 250.39,310.35 250.52,309.73 250.66,309.64 250.79,309.34 250.92,308.65 251.06,308.44 251.19,308.03 251.32,307.13 251.46,305.97 251.59,305.00 251.73,303.76 251.86,302.92 251.99,301.70 252.13,301.09 252.26,300.63 252.39,300.18 252.53,299.87 252.66,299.56 252.79,299.22 252.93,298.85 253.06,298.77 253.20,298.44 253.33,298.29 253.46,298.17 253.60,298.13 253.73,298.01 253.86,297.58 254.00,297.62 254.13,297.54 254.26,297.27 254.40,296.91 254.53,296.71 254.67,296.99 254.80,296.88 254.93,296.67 255.07,296.37 255.20,296.61 255.33,296.46 255.47,296.18 255.60,296.04 255.73,295.70 255.87,295.98 256.00,295.55 256.14,295.79 256.27,295.72 256.40,295.55 256.54,295.69 256.67,295.35 256.80,295.42 256.94,295.38 257.07,295.24 257.20,295.09 257.34,295.27 257.47,295.10 257.61,294.96 257.74,294.91 257.87,294.90 258.01,295.14 258.14,294.79 258.27,294.69 258.41,294.52 258.54,294.44 258.67,294.29 258.81,294.54 258.94,294.45 259.08,294.25 259.21,294.12 259.34,294.22 259.48,294.13 259.61,293.95 259.74,294.11 259.88,294.01 260.01,293.91 260.14,293.94 260.28,293.65 260.41,293.84 260.55,293.42 260.68,293.53 260.81,293.45 260.95,293.23 261.08,293.21 261.21,292.87 261.35,292.74 261.48,292.81 261.61,292.62 261.75,292.69 261.88,292.50 262.02,292.46 262.15,292.29 262.28,292.15 262.42,292.01 262.55,291.82 262.68,291.67 262.82,291.89 262.95,291.22 263.08,291.31 263.22,291.34 263.35,291.11 263.49,291.11 263.62,290.84 263.75,290.44 263.89,290.41 264.02,290.11 264.15,290.28 264.29,290.18 264.42,289.74 264.55,289.71 264.69,289.40 264.82,289.07 264.96,289.03 265.09,288.69 265.22,288.64 265.36,288.56 265.49,288.44 265.62,288.33 265.76,287.92 265.89,287.80 266.02,287.64 266.16,287.47 266.29,286.81 266.43,286.91 266.56,286.95 266.69,286.50 266.83,286.51 266.96,286.41 267.09,285.84 267.23,285.90 267.36,285.78 267.49,285.56 267.63,285.16 267.76,285.24 267.90,284.92 268.03,284.92 268.16,284.66 268.30,284.32 268.43,284.21 268.56,283.87 268.70,283.64 268.83,283.28 268.97,283.22 269.10,283.11 269.23,282.72 269.37,282.38 269.50,281.94 269.63,281.58 269.77,281.35 269.90,280.61 270.03,280.68 270.17,279.96 270.30,279.87 270.44,279.35 270.57,278.77 270.70,278.60 270.84,278.24 270.97,277.99 271.10,277.79 271.24,277.38 271.37,277.17 271.50,277.00 271.64,276.69 271.77,276.68 271.91,276.58 272.04,276.43 272.17,276.27 272.31,276.03 272.44,276.05 272.57,275.51 272.71,275.60 272.84,275.46 272.97,275.49 273.11,275.31 273.24,275.18 273.38,274.92 273.51,274.89 273.64,274.46 273.78,274.44 273.91,273.96 274.04,274.31 274.18,274.09 274.31,273.56 274.44,273.27 274.58,272.78 274.71,272.43 274.85,272.09 274.98,271.28 275.11,270.27 275.25,269.78 275.38,269.33 275.51,269.20 275.65,269.04 275.78,268.77 275.91,268.71 276.05,268.61 276.18,268.26 276.32,268.52 276.45,268.45 276.58,268.53 276.72,268.14 276.85,268.48 276.98,268.27 277.12,268.39 277.25,268.52 277.38,268.14 277.52,268.17 277.65,268.50 277.79,268.21 277.92,268.25 278.05,268.49 278.19,268.39 278.32,268.55 278.45,268.51 278.59,268.50 278.72,268.68 278.85,268.90 278.99,268.63 279.12,268.92 279.26,268.94 279.39,268.88 279.52,269.02 279.66,268.92 279.79,269.06 279.92,269.29 280.06,269.34 280.19,269.63 280.32,269.37 280.46,269.61 280.59,269.66 280.73,269.84 280.86,270.14 280.99,269.94 281.13,270.36 281.26,270.30 281.39,270.48 281.53,270.81 281.66,270.77 281.79,271.05 281.93,271.11 282.06,271.21 282.20,271.32 282.33,271.26 282.46,271.52 282.60,271.76 282.73,271.87 282.86,271.73 283.00,272.16 283.13,272.17 283.26,271.96 283.40,272.04 283.53,272.27 283.67,271.96 283.80,272.10 283.93,272.18 284.07,272.14 284.20,272.12 284.33,272.13 284.47,271.92 284.60,271.90 284.73,272.19 284.87,271.64 285.00,271.70 285.14,271.71 285.27,271.53 285.40,271.71 285.54,271.47 285.67,271.49 285.80,270.92 285.94,271.35 286.07,271.24 286.20,270.86 286.34,271.03 286.47,270.76 286.61,270.72 286.74,270.72 286.87,270.35 287.01,270.06 287.14,270.08 287.27,269.78 287.41,269.73 287.54,269.63 287.67,269.53 287.81,269.69 287.94,269.55 288.08,269.21 288.21,269.40 288.34,268.91 288.48,268.96 288.61,268.94 288.74,269.04 288.88,268.88 289.01,268.76 289.14,268.78 289.28,268.61 289.41,268.61 289.55,268.21 289.68,267.99 289.81,268.07 289.95,268.15 290.08,267.97 290.21,267.96 290.35,267.84 290.48,267.73 290.61,267.68 290.75,267.38 290.88,267.53 291.02,267.12 291.15,267.11 291.28,266.77 291.42,266.83 291.55,266.30 291.68,266.40 291.82,265.64 291.95,265.42 292.08,264.84 292.22,264.13 292.35,263.75 292.49,262.77 292.62,262.28 292.75,261.19 292.89,260.52 293.02,259.55 293.15,259.02 293.29,258.08 293.42,256.94 293.55,255.87 293.69,254.80 293.82,254.38 293.96,253.30 294.09,252.07 294.22,251.43 294.36,250.25 294.49,249.99 294.62,249.21 294.76,248.32 294.89,247.30 295.02,246.43 295.16,245.54 295.29,245.07 295.43,244.17 295.56,243.53 295.69,242.84 295.83,242.26 295.96,241.82 296.09,241.36 296.23,240.59 296.36,240.04 296.49,239.38 296.63,238.88 296.76,238.44 296.90,238.26 297.03,237.73 297.16,237.42 297.30,236.95 297.43,236.46 297.56,235.98 297.70,235.75 297.83,235.25 297.96,235.39 298.10,234.80 298.23,234.36 298.37,234.33 298.50,233.63 298.63,233.39 298.77,232.89 298.90,232.54 299.03,231.98 299.17,231.59 299.30,231.16 299.43,230.19 299.57,229.45 299.70,229.36 299.84,228.65 299.97,228.25 300.10,227.64 300.24,227.49 300.37,227.14 300.50,226.34 300.64,226.24 300.77,225.70 300.90,225.21 301.04,225.05 301.17,224.84 301.31,224.23 301.44,223.91 301.57,223.93 301.71,223.43 301.84,223.15 301.97,222.60 302.11,222.32 302.24,222.08 302.38,221.72 302.51,221.36 302.64,221.20 302.78,220.65 302.91,220.06 303.04,219.83 303.18,219.64 303.31,219.54 303.44,219.00 303.58,218.79 303.71,218.61 303.85,218.30 303.98,218.08 304.11,217.96 304.25,217.95 304.38,217.69 304.51,217.40 304.65,217.32 304.78,216.90 304.91,217.03 305.05,216.81" fill="none" stroke="#000" stroke-width="2.2" stroke-dasharray="1.820 5.460 7.280 5.460" stroke-dashoffset="0" stroke-linejoin="round"/>
<path d="M305.05,216.81 305.18,216.55 305.32,216.07 305.45,216.36 305.58,215.41 305.72,215.42 305.85,215.17 305.98,215.14 306.12,214.57 306.25,214.57 306.38,214.28 306.52,214.05 306.65,214.03 306.79,213.96 306.92,213.69 307.05,213.50 307.19,213.16 307.32,213.67 307.45,213.43 307.59,213.23 307.72,213.56 307.85,213.81 307.99,213.66 308.12,213.60 308.26,214.17 308.39,214.04 308.52,214.12 308.66,214.32 308.79,213.99 308.92,214.41 309.06,214.51 309.19,214.99 309.32,214.72 309.46,214.87 309.59,214.91 309.73,215.16 309.86,215.43 309.99,215.68 310.13,215.82 310.26,216.34 310.39,216.34 310.53,216.59 310.66,216.92 310.79,217.07 310.93,217.16 311.06,217.29 311.20,217.84 311.33,217.98 311.46,218.61 311.60,218.66 311.73,218.82 311.86,219.53 312.00,220.09 312.13,220.35 312.26,220.88 312.40,221.40 312.53,222.23 312.67,222.75 312.80,223.55 312.93,224.42 313.07,225.29 313.20,226.69 313.33,227.72 313.47,228.77 313.60,230.34 313.73,231.39 313.87,232.11 314.00,232.75 314.14,233.40 314.27,233.56 314.40,234.04 314.54,234.47 314.67,234.83 314.80,235.13 314.94,235.52 315.07,235.90 315.20,236.04 315.34,236.53 315.47,236.83 315.61,237.52 315.74,237.50 315.87,238.07 316.01,238.61 316.14,238.90 316.27,239.37 316.41,239.88 316.54,240.64 316.67,241.25 316.81,242.48 316.94,243.83 317.08,245.16 317.21,246.81 317.34,248.16 317.48,249.89 317.61,251.45 317.74,252.60 317.88,253.37 318.01,254.45 318.14,254.98 318.28,255.85 318.41,256.93 318.55,257.42 318.68,258.37 318.81,258.87 318.95,259.67 319.08,260.31 319.21,261.39 319.35,262.01 319.48,262.91 319.61,263.68 319.75,264.53 319.88,265.38 320.02,266.30 320.15,267.44 320.28,268.97 320.42,271.09 320.55,273.64 320.68,275.32 320.82,276.16 320.95,277.11 321.08,277.53 321.22,277.93 321.35,278.49 321.49,279.26 321.62,279.70 321.75,280.11 321.89,280.71 322.02,280.94 322.15,281.58 322.29,281.89 322.42,282.35 322.55,282.88 322.69,283.07 322.82,283.66 322.96,284.02 323.09,284.09 323.22,284.89 323.36,284.75 323.49,285.29 323.62,285.79 323.76,285.75 323.89,286.62 324.02,287.06 324.16,287.32 324.29,287.82 324.43,288.27 324.56,288.66 324.69,289.29 324.83,289.52 324.96,289.99 325.09,290.45 325.23,290.91 325.36,291.31 325.49,291.28 325.63,291.54 325.76,292.15 325.90,292.52 326.03,292.73 326.16,293.28 326.30,293.65 326.43,293.93 326.56,294.40 326.70,294.28 326.83,294.67 326.96,295.16 327.10,295.17 327.23,295.08 327.37,295.41 327.50,295.67 327.63,295.90 327.77,295.79 327.90,295.94 328.03,295.68 328.17,295.86 328.30,296.12 328.43,295.86 328.57,296.03 328.70,295.81 328.84,296.31 328.97,296.11 329.10,296.23 329.24,295.95 329.37,295.99 329.50,296.45 329.64,296.15 329.77,296.12 329.90,296.27 330.04,296.28 330.17,295.91 330.31,296.03 330.44,296.14 330.57,296.10 330.71,296.10 330.84,295.94 330.97,295.90 331.11,295.91 331.24,295.72 331.37,295.64 331.51,295.62 331.64,295.63 331.78,295.55 331.91,295.45 332.04,295.42 332.18,295.40 332.31,295.41 332.44,295.38 332.58,295.12 332.71,295.43 332.84,295.06 332.98,295.37 333.11,295.22 333.25,295.44 333.38,295.55 333.51,295.19 333.65,295.61 333.78,295.63 333.91,295.61 334.05,295.82 334.18,295.79 334.31,295.98 334.45,295.92 334.58,296.29 334.72,296.38 334.85,296.52 334.98,296.44 335.12,296.92 335.25,297.06 335.38,296.88 335.52,296.95 335.65,297.07 335.79,297.35 335.92,297.53 336.05,297.41 336.19,297.37 336.32,297.86 336.45,297.94 336.59,298.12 336.72,298.32 336.85,298.25 336.99,298.57 337.12,298.68 337.26,298.94 337.39,299.22 337.52,299.20 337.66,299.24 337.79,299.71 337.92,299.81 338.06,299.87 338.19,299.84 338.32,300.17 338.46,300.52 338.59,300.78 338.73,300.84 338.86,301.18 338.99,301.23 339.13,301.45 339.26,301.78 339.39,301.85 339.53,302.09 339.66,302.36 339.79,302.56 339.93,302.47 340.06,302.66 340.20,302.64 340.33,302.77 340.46,303.10 340.60,303.09 340.73,303.01 340.86,303.44 341.00,303.34 341.13,303.50 341.26,303.69 341.40,303.76 341.53,303.78 341.67,303.58 341.80,304.01 341.93,303.92 342.07,303.87 342.20,303.82 342.33,304.38 342.47,304.27 342.60,304.32 342.73,304.45 342.87,304.40 343.00,304.25 343.14,304.60 343.27,304.69 343.40,304.66 343.54,304.84 343.67,304.93 343.80,304.58 343.94,304.66 344.07,304.88 344.20,304.80 344.34,304.83 344.47,304.95 344.61,304.93 344.74,304.78 344.87,304.86 345.01,304.75 345.14,304.82 345.27,304.68 345.41,304.56 345.54,304.75 345.67,304.73 345.81,304.92 345.94,304.99 346.08,304.76 346.21,304.80 346.34,304.62 346.48,304.55 346.61,304.61 346.74,304.59 346.88,304.64 347.01,304.58 347.14,304.77 347.28,304.47 347.41,304.24 347.55,304.45 347.68,304.31 347.81,304.40 347.95,304.49 348.08,304.21 348.21,304.25 348.35,304.30 348.48,304.05 348.61,304.18 348.75,304.18 348.88,304.18 349.02,304.17 349.15,304.05 349.28,303.98 349.42,303.68 349.55,303.45 349.68,303.63 349.82,303.91 349.95,303.67 350.08,303.28 350.22,303.47 350.35,303.51 350.49,303.13 350.62,303.40 350.75,303.08 350.89,303.31 351.02,303.09 351.15,303.43 351.29,302.72 351.42,302.85 351.55,302.51 351.69,302.78 351.82,302.53 351.96,302.53 352.09,302.30 352.22,302.01 352.36,301.97 352.49,301.76 352.62,301.67 352.76,301.71 352.89,301.71 353.02,301.56 353.16,301.38 353.29,301.10 353.43,301.12 353.56,300.79 353.69,300.81 353.83,300.76 353.96,300.49 354.09,300.31 354.23,300.19 354.36,300.20 354.49,299.94 354.63,299.66 354.76,299.67 354.90,299.45 355.03,299.68 355.16,299.35 355.30,299.01 355.43,299.12 355.56,299.05 355.70,298.86 355.83,298.62 355.96,298.55 356.10,298.43 356.23,298.39 356.37,298.15 356.50,298.28 356.63,297.79 356.77,297.89 356.90,297.54 357.03,297.16 357.17,297.10 357.30,296.87 357.43,296.76 357.57,297.03 357.70,296.65 357.84,296.70 357.97,296.38 358.10,296.38 358.24,296.13 358.37,296.29 358.50,296.03 358.64,295.91 358.77,295.86 358.90,296.10 359.04,295.77 359.17,295.74 359.31,295.38 359.44,295.38 359.57,295.44 359.71,295.07 359.84,295.45 359.97,295.24 360.11,295.14 360.24,295.05 360.37,294.98 360.51,294.89 360.64,295.09 360.78,294.93 360.91,294.95 361.04,294.68 361.18,294.54 361.31,294.80 361.44,294.38 361.58,294.41 361.71,294.53 361.84,294.52 361.98,294.13 362.11,294.21 362.25,294.19 362.38,294.10 362.51,293.94 362.65,294.09 362.78,293.86 362.91,293.84 363.05,293.49 363.18,293.73 363.31,293.41 363.45,293.72 363.58,293.62 363.72,293.42 363.85,293.45 363.98,293.38 364.12,293.29 364.25,293.30 364.38,293.17 364.52,293.06 364.65,292.95 364.78,293.24 364.92,292.97 365.05,292.88 365.19,292.93 365.32,292.71 365.45,292.66 365.59,292.74 365.72,292.74 365.85,292.63 365.99,292.28 366.12,292.44 366.25,292.37 366.39,292.39 366.52,292.15 366.66,292.08 366.79,292.16 366.92,292.00 367.06,291.93 367.19,292.02 367.32,292.12 367.46,291.96 367.59,292.06 367.72,291.72 367.86,291.92 367.99,291.78 368.13,291.63 368.26,291.66 368.39,291.56 368.53,291.62 368.66,291.52 368.79,291.77 368.93,291.52 369.06,291.34 369.20,291.49 369.33,291.54 369.46,291.42 369.60,291.56 369.73,291.30 369.86,291.28 370.00,291.60 370.13,291.36 370.26,291.41 370.40,291.39 370.53,291.38 370.67,291.28 370.80,291.23 370.93,291.39 371.07,291.15 371.20,291.21 371.33,291.27 371.47,291.10 371.60,290.92 371.73,291.17 371.87,291.24 372.00,291.10 372.14,290.82 372.27,291.12 372.40,291.28 372.54,290.78 372.67,290.61 372.80,290.93 372.94,290.96 373.07,291.05 373.20,291.04 373.34,290.93 373.47,290.98 373.61,290.94 373.74,290.90 373.87,290.86 374.01,290.84 374.14,290.94 374.27,290.89 374.41,290.76 374.54,290.96 374.67,290.69 374.81,290.74 374.94,290.78 375.08,290.48 375.21,290.67 375.34,290.81 375.48,290.78 375.61,290.48 375.74,290.51 375.88,290.44 376.01,290.53 376.14,290.51 376.28,290.27 376.41,290.49 376.55,290.41 376.68,290.34 376.81,290.20 376.95,290.21 377.08,289.93 377.21,290.13 377.35,290.05 377.48,289.93 377.61,289.69 377.75,289.93 377.88,289.82 378.02,289.30 378.15,289.51 378.28,289.37 378.42,288.88 378.55,289.19 378.68,289.09 378.82,288.98 378.95,288.79 379.08,288.56 379.22,288.46 379.35,288.49 379.49,288.46 379.62,288.12 379.75,288.04 379.89,288.07 380.02,287.58 380.15,287.84 380.29,287.65 380.42,287.30 380.55,287.62 380.69,287.32 380.82,287.48 380.96,287.51 381.09,287.10 381.22,287.06 381.36,287.17 381.49,286.90 381.62,287.20 381.76,287.09 381.89,287.16 382.02,286.75 382.16,287.00 382.29,287.01 382.43,286.68 382.56,287.03 382.69,286.71 382.83,286.91 382.96,286.69 383.09,286.97 383.23,287.09 383.36,286.86 383.49,286.86 383.63,287.03 383.76,286.80 383.90,286.87 384.03,286.98 384.16,286.94 384.30,287.11 384.43,287.07 384.56,287.19 384.70,286.96 384.83,287.16 384.96,286.94 385.10,287.23 385.23,287.41 385.37,287.56 385.50,287.14 385.63,287.36 385.77,287.55 385.90,287.41 386.03,287.68 386.17,287.75 386.30,287.68 386.43,287.74 386.57,287.75 386.70,287.97 386.84,288.15 386.97,288.06 387.10,288.43 387.24,287.86 387.37,287.99 387.50,288.15 387.64,287.88 387.77,288.03 387.90,288.03 388.04,287.85 388.17,287.67 388.31,287.70 388.44,287.47 388.57,287.33 388.71,287.10 388.84,286.72 388.97,286.42 389.11,286.27 389.24,286.08 389.37,285.75 389.51,285.63 389.64,285.25 389.78,285.06 389.91,284.65 390.04,284.26 390.18,284.20 390.31,283.89 390.44,283.46 390.58,283.28 390.71,283.51 390.84,282.46 390.98,282.91 391.11,282.61 391.25,282.45 391.38,282.28 391.51,282.11 391.65,282.38 391.78,281.87 391.91,281.77 392.05,281.81 392.18,281.64 392.31,281.46 392.45,281.34 392.58,281.10 392.72,281.33 392.85,280.94 392.98,280.66 393.12,281.06 393.25,280.93 393.38,280.79 393.52,280.59 393.65,280.75 393.78,280.37 393.92,280.14 394.05,280.40 394.19,280.42 394.32,280.34 394.45,280.48 394.59,280.24 394.72,280.04 394.85,279.99 394.99,280.10 395.12,279.92 395.25,279.88 395.39,279.62 395.52,279.79 395.66,279.64 395.79,279.84 395.92,279.82 396.06,279.90 396.19,280.06 396.32,279.80 396.46,280.06 396.59,279.73 396.72,279.95 396.86,280.11 396.99,280.31 397.13,279.94 397.26,280.12 397.39,280.24 397.53,280.27 397.66,280.22 397.79,280.20 397.93,280.33 398.06,280.56 398.19,280.46 398.33,280.96 398.46,280.95 398.60,280.58 398.73,280.85 398.86,281.16 399.00,281.25 399.13,281.26 399.26,280.97 399.40,281.18 399.53,281.48 399.66,281.38 399.80,281.38 399.93,281.59 400.07,281.74 400.20,281.71 400.33,281.83 400.47,282.05 400.60,281.93 400.73,282.01 400.87,282.38 401.00,282.27 401.13,282.68 401.27,282.71 401.40,283.15 401.54,283.10 401.67,283.68 401.80,283.82 401.94,284.02 402.07,284.22 402.20,284.61 402.34,284.79 402.47,285.03 402.61,285.63 402.74,285.82 402.87,286.17 403.01,286.04 403.14,286.18 403.27,286.44 403.41,286.94 403.54,287.14 403.67,286.93 403.81,287.49 403.94,287.44 404.08,287.48 404.21,287.78 404.34,288.02 404.48,288.05 404.61,288.19 404.74,288.23 404.88,288.27 405.01,288.55 405.14,288.49 405.28,288.92 405.41,288.83 405.55,289.24 405.68,288.94 405.81,289.47 405.95,289.24 406.08,289.34 406.21,289.60 406.35,289.77 406.48,289.72 406.61,289.75 406.75,290.16 406.88,290.02 407.02,289.85 407.15,290.04 407.28,290.37 407.42,290.24 407.55,290.35 407.68,290.57 407.82,290.24 407.95,290.42 408.08,290.31 408.22,290.44 408.35,290.54 408.49,290.31 408.62,290.54 408.75,290.56 408.89,290.71 409.02,290.50 409.15,290.42 409.29,290.67 409.42,290.47 409.55,290.67 409.69,290.73 409.82,290.54 409.96,290.66 410.09,290.53 410.22,290.29 410.36,290.49 410.49,290.40 410.62,290.70 410.76,290.55 410.89,290.68 411.02,290.69 411.16,290.85 411.29,290.65 411.43,290.64 411.56,290.77 411.69,290.92 411.83,290.68 411.96,290.73 412.09,290.64 412.23,290.55 412.36,290.41 412.49,290.59 412.63,290.54 412.76,290.52 412.90,290.80 413.03,290.44 413.16,290.51 413.30,290.38 413.43,290.56 413.56,290.32 413.70,290.58 413.83,290.25 413.96,290.36 414.10,290.36 414.23,290.16 414.37,290.28 414.50,290.14 414.63,289.99 414.77,289.98 414.90,290.10 415.03,290.28 415.17,289.94 415.30,290.07 415.43,289.88 415.57,290.02 415.70,289.80 415.84,289.88 415.97,289.99 416.10,289.91 416.24,290.00 416.37,290.21 416.50,290.09 416.64,290.05 416.77,290.03 416.90,290.18 417.04,290.48 417.17,290.37 417.31,290.43 417.44,290.63 417.57,290.72 417.71,290.81 417.84,290.70 417.97,290.69 418.11,290.66 418.24,290.87 418.37,290.98 418.51,291.20 418.64,291.20 418.78,291.13 418.91,291.38 419.04,291.12 419.18,291.18 419.31,291.19 419.44,291.23 419.58,291.36 419.71,291.29 419.84,291.30 419.98,291.60 420.11,291.21 420.25,291.26 420.38,291.37 420.51,291.46 420.65,291.45 420.78,291.33 420.91,291.30 421.05,291.30 421.18,291.42 421.31,291.17 421.45,290.95 421.58,291.28 421.72,291.06 421.85,291.19 421.98,291.37 422.12,291.16 422.25,291.37 422.38,290.86 422.52,291.08 422.65,291.07 422.78,291.09 422.92,290.84 423.05,290.93 423.19,290.88 423.32,290.84 423.45,290.59 423.59,290.50 423.72,290.77 423.85,290.70 423.99,290.62 424.12,290.65 424.25,290.67 424.39,290.31 424.52,290.53 424.66,290.58 424.79,290.47 424.92,290.35 425.06,290.32 425.19,289.96 425.32,290.04 425.46,290.19 425.59,290.18 425.72,289.97 425.86,289.76 425.99,289.72 426.13,289.78 426.26,289.85 426.39,289.59 426.53,289.31 426.66,289.38 426.79,289.26 426.93,289.43 427.06,289.08 427.19,288.91 427.33,288.79 427.46,288.54 427.60,288.47 427.73,288.46 427.86,288.33 428.00,288.39 428.13,288.30 428.26,288.34 428.40,288.35 428.53,288.10 428.66,287.99 428.80,287.71 428.93,287.97 429.07,287.95 429.20,287.70 429.33,287.71 429.47,287.61 429.60,287.81 429.73,287.70 429.87,287.74 430.00,287.36 430.13,287.86 430.27,287.32 430.40,287.26 430.54,287.39 430.67,287.25 430.80,287.55 430.94,287.20 431.07,287.13 431.20,287.33 431.34,287.34 431.47,287.02 431.60,287.05 431.74,287.04 431.87,287.05 432.01,287.30 432.14,287.22 432.27,287.18 432.41,287.19 432.54,287.01 432.67,287.12 432.81,286.99 432.94,286.89 433.07,287.24 433.21,286.76 433.34,287.02 433.48,286.95 433.61,286.82 433.74,287.02 433.88,287.11 434.01,287.19 434.14,287.05 434.28,287.30 434.41,287.28 434.54,287.39 434.68,287.05 434.81,287.30 434.95,287.32 435.08,287.54 435.21,287.40 435.35,287.49 435.48,287.45 435.61,287.50 435.75,287.59 435.88,287.91 436.02,287.69 436.15,287.55 436.28,287.99 436.42,287.94 436.55,288.14 436.68,288.20 436.82,288.14 436.95,288.18 437.08,288.21 437.22,288.35 437.35,288.30 437.49,288.50 437.62,288.74 437.75,288.52 437.89,288.60 438.02,288.68 438.15,288.93 438.29,289.02 438.42,289.21 438.55,289.19 438.69,289.19 438.82,289.32 438.96,289.16 439.09,289.51 439.22,289.54 439.36,289.88 439.49,289.86 439.62,289.63 439.76,289.75 439.89,290.02 440.02,289.68 440.16,289.90 440.29,290.14 440.43,290.24 440.56,290.23 440.69,290.41 440.83,290.26 440.96,290.34 441.09,290.34 441.23,290.24 441.36,290.41 441.49,290.35 441.63,290.45 441.76,290.08 441.90,290.46 442.03,290.37 442.16,290.36 442.30,290.45 442.43,290.37 442.56,290.56 442.70,290.59 442.83,290.53 442.96,290.52 443.10,290.42 443.23,290.35 443.37,290.14 443.50,290.25 443.63,290.44 443.77,290.35 443.90,290.14 444.03,290.19 444.17,290.29 444.30,290.08 444.43,290.29 444.57,289.92 444.70,290.09 444.84,290.03 444.97,289.91 445.10,289.88 445.24,289.87 445.37,289.42 445.50,289.75 445.64,289.79 445.77,289.62 445.90,289.66 446.04,289.27 446.17,289.35 446.31,289.32 446.44,289.15 446.57,289.26 446.71,289.06 446.84,288.82 446.97,288.89 447.11,288.78 447.24,288.49 447.37,288.52 447.51,288.37 447.64,288.25 447.78,287.90 447.91,288.14 448.04,287.94 448.18,287.73 448.31,287.68 448.44,287.57 448.58,287.38 448.71,287.25 448.84,287.25 448.98,287.07 449.11,286.99 449.25,286.81 449.38,286.84 449.51,286.92 449.65,286.72 449.78,286.60 449.91,286.45 450.05,286.34 450.18,286.10 450.31,286.44 450.45,286.02 450.58,285.82 450.72,285.99 450.85,285.88 450.98,285.69 451.12,285.47 451.25,285.40 451.38,285.73 451.52,285.42 451.65,285.27 451.78,285.55 451.92,285.15 452.05,285.03 452.19,285.18 452.32,285.10 452.45,285.21 452.59,284.73 452.72,284.95 452.85,284.64 452.99,284.91 453.12,284.73 453.25,284.74 453.39,284.69 453.52,284.90 453.66,285.01 453.79,284.78 453.92,284.76 454.06,284.74 454.19,284.90 454.32,284.71 454.46,285.37 454.59,284.87 454.72,285.17 454.86,284.99 454.99,284.81 455.13,284.82 455.26,285.03 455.39,285.03 455.53,285.14 455.66,285.06 455.79,285.60 455.93,285.62 456.06,285.12 456.19,285.50 456.33,285.66 456.46,285.50 456.60,285.57 456.73,285.82 456.86,285.80 457.00,285.61 457.13,286.02 457.26,285.84 457.40,286.23 457.53,285.90 457.66,285.78 457.80,286.18 457.93,286.40 458.07,286.36 458.20,286.37 458.33,286.28 458.47,286.60 458.60,286.28 458.73,286.72 458.87,286.52 459.00,286.68 459.13,286.66 459.27,286.80 459.40,287.22 459.54,286.94 459.67,287.22 459.80,287.17 459.94,287.52 460.07,287.28 460.20,287.56 460.34,287.78 460.47,288.06 460.60,287.66 460.74,287.79 460.87,287.99 461.01,288.28 461.14,288.01 461.27,288.34 461.41,288.21 461.54,288.22 461.67,288.21 461.81,288.53 461.94,288.72 462.07,288.65 462.21,288.44 462.34,288.74 462.48,289.03 462.61,289.09 462.74,289.09 462.88,289.33 463.01,289.02 463.14,289.10 463.28,289.68 463.41,289.51 463.54,289.46 463.68,289.48 463.81,289.25 463.95,289.80 464.08,289.45 464.21,289.52 464.35,289.85 464.48,290.12 464.61,289.90 464.75,290.05 464.88,289.98 465.01,290.13 465.15,289.87 465.28,290.43 465.42,290.02 465.55,290.25 465.68,289.89 465.82,290.44 465.95,290.25 466.08,290.46 466.22,290.07 466.35,290.29 466.48,290.08 466.62,290.06 466.75,290.21 466.89,289.84 467.02,290.02 467.15,290.13 467.29,290.04 467.42,289.87 467.55,289.70 467.69,289.44 467.82,289.71 467.95,289.32 468.09,289.51 468.22,289.21 468.36,289.18 468.49,289.09 468.62,289.09 468.76,288.86 468.89,288.87 469.02,288.69 469.16,288.76 469.29,288.64 469.43,288.59 469.56,288.33 469.69,288.43 469.83,288.32 469.96,288.34 470.09,288.21 470.23,288.01 470.36,288.21 470.49,287.97 470.63,288.07 470.76,287.71 470.90,288.07 471.03,288.08 471.16,287.85 471.30,288.06 471.43,287.93 471.56,288.19 471.70,288.10 471.83,287.84 471.96,288.01 472.10,287.81 472.23,288.04 472.37,288.19 472.50,288.26 472.63,288.17 472.77,288.19 472.90,288.28 473.03,288.22 473.17,288.40 473.30,288.56 473.43,288.48 473.57,288.62 473.70,288.44 473.84,288.54 473.97,288.72 474.10,289.01 474.24,288.93 474.37,289.09 474.50,288.91 474.64,289.14 474.77,288.79 474.90,289.17 475.04,288.88 475.17,289.43 475.31,289.41 475.44,289.60 475.57,289.59 475.71,289.56 475.84,289.63 475.97,289.86 476.11,290.16 476.24,290.15 476.37,290.09 476.51,290.20 476.64,290.30 476.78,290.48 476.91,290.61 477.04,290.67 477.18,290.85 477.31,290.73 477.44,291.29 477.58,291.21 477.71,291.49 477.84,291.41 477.98,291.44 478.11,291.56 478.25,291.67 478.38,291.62 478.51,291.73 478.65,292.12 478.78,292.04 478.91,291.88 479.05,292.06 479.18,291.90 479.31,292.24 479.45,291.92 479.58,292.20 479.72,292.08 479.85,292.08 479.98,291.96 480.12,292.03 480.25,291.94 480.38,291.91 480.52,292.07 480.65,292.34 480.78,291.90 480.92,292.06 481.05,291.89 481.19,291.75 481.32,292.01 481.45,291.87 481.59,291.90 481.72,291.72 481.85,291.69 481.99,291.51 482.12,291.56 482.25,291.80 482.39,291.21 482.52,291.55 482.66,291.68 482.79,291.55 482.92,291.54 483.06,291.34 483.19,291.51 483.32,291.48 483.46,291.29 483.59,291.50 483.72,291.16 483.86,290.85 483.99,291.16 484.13,291.11 484.26,290.98 484.39,291.00 484.53,290.95 484.66,290.73 484.79,291.13 484.93,290.92 485.06,291.26 485.19,290.83 485.33,290.85 485.46,290.54 485.60,290.85 485.73,290.51 485.86,290.69 486.00,290.70 486.13,290.63 486.26,290.35 486.40,290.31 486.53,290.47 486.66,290.47 486.80,290.45 486.93,290.19 487.07,290.11 487.20,290.30 487.33,289.88 487.47,289.99 487.60,289.74 487.73,289.49 487.87,289.43 488.00,289.54 488.13,289.40 488.27,289.33 488.40,289.10 488.54,288.96 488.67,288.95 488.80,288.77 488.94,288.45 489.07,288.50 489.20,288.69 489.34,288.23 489.47,288.30 489.60,288.11 489.74,288.12 489.87,287.80 490.01,287.65 490.14,287.80 490.27,287.56 490.41,287.59 490.54,287.49 490.67,287.62 490.81,287.48 490.94,287.43 491.07,287.26 491.21,287.17 491.34,287.29 491.48,287.55 491.61,287.57 491.74,287.61 491.88,287.54 492.01,287.53 492.14,287.93 492.28,287.89 492.41,288.05 492.54,287.97 492.68,288.13 492.81,288.46 492.95,288.62 493.08,288.53 493.21,288.87 493.35,288.83 493.48,289.34 493.61,289.44 493.75,289.84 493.88,289.92 494.01,289.80 494.15,290.11 494.28,290.21 494.42,290.49 494.55,290.77 494.68,290.84 494.82,291.04 494.95,291.02 495.08,291.46 495.22,291.55 495.35,291.82 495.48,292.06 495.62,292.12 495.75,292.41 495.89,292.44 496.02,292.87 496.15,292.95 496.29,293.09 496.42,293.37 496.55,293.42 496.69,293.75 496.82,294.00 496.95,294.27 497.09,294.46 497.22,294.59 497.36,294.84 497.49,294.75 497.62,295.24 497.76,295.48 497.89,295.69 498.02,295.91 498.16,295.91 498.29,296.10 498.42,296.22 498.56,296.40 498.69,296.66 498.83,297.00 498.96,296.75 499.09,297.09 499.23,297.36 499.36,297.35 499.49,297.70 499.63,297.61 499.76,297.91 499.89,297.88 500.03,298.29 500.16,298.29 500.30,298.63 500.43,298.63 500.56,298.67 500.70,298.87 500.83,299.06 500.96,299.16 501.10,299.23 501.23,299.32 501.36,299.47 501.50,299.68 501.63,299.57 501.77,299.80 501.90,299.63 502.03,300.02 502.17,300.01 502.30,299.98 502.43,300.05 502.57,299.92 502.70,300.23 502.84,300.23 502.97,300.13 503.10,300.31 503.24,300.50 503.37,300.49 503.50,300.55 503.64,300.48 503.77,300.72 503.90,300.64 504.04,300.80 504.17,301.03 504.31,300.48 504.44,300.72 504.57,300.83 504.71,300.76 504.84,301.05 504.97,300.89 505.11,301.20 505.24,301.11 505.37,301.10 505.51,301.07 505.64,301.22 505.78,301.20 505.91,301.36 506.04,301.24 506.18,301.35 506.31,301.28 506.44,301.29 506.58,301.05 506.71,301.28 506.84,301.35 506.98,301.16 507.11,301.14 507.25,301.31 507.38,301.40 507.51,301.14 507.65,301.43 507.78,301.54 507.91,301.38 508.05,301.46 508.18,301.51 508.31,301.36 508.45,301.56 508.58,301.54 508.72,301.32 508.85,301.58 508.98,301.65 509.12,301.39 509.25,301.68 509.38,301.54 509.52,301.40 509.65,301.46 509.78,301.50 509.92,301.72 510.05,301.60 510.19,301.64 510.32,301.54 510.45,301.75 510.59,301.60 510.72,301.70 510.85,301.91 510.99,301.94 511.12,301.81 511.25,301.90 511.39,302.01 511.52,301.96 511.66,302.15 511.79,302.20 511.92,302.03 512.06,301.89 512.19,302.06 512.32,302.29 512.46,302.28 512.59,302.31 512.72,302.32 512.86,302.11 512.99,302.23 513.13,302.35 513.26,302.25 513.39,302.34 513.53,302.08 513.66,302.05 513.79,302.49 513.93,302.31 514.06,302.28 514.19,302.39 514.33,302.48 514.46,302.55 514.60,301.79 514.73,302.16 514.86,302.23 515.00,301.79 515.13,301.78 515.26,301.97 515.40,302.22 515.53,302.05 515.66,302.19 515.80,301.88 515.93,301.95 516.07,301.97 516.20,301.77 516.33,301.66 516.47,301.63 516.60,301.04 516.73,301.54 516.87,301.18 517.00,301.27 517.13,301.42 517.27,301.32 517.40,300.92 517.54,301.21 517.67,301.17 517.80,301.03 517.94,301.03 518.07,300.94 518.20,300.55 518.34,300.68 518.47,300.59 518.60,300.38 518.74,300.46 518.87,300.27 519.01,300.29 519.14,300.09 519.27,300.27 519.41,300.35 519.54,299.86 519.67,299.86 519.81,299.77 519.94,299.72 520.07,299.54 520.21,299.15 520.34,299.42 520.48,299.25 520.61,299.01 520.74,299.03 520.88,298.88 521.01,298.88 521.14,298.70 521.28,298.59 521.41,298.54 521.54,298.44 521.68,298.30 521.81,298.35 521.95,298.10 522.08,297.84 522.21,298.08 522.35,297.73 522.48,297.81 522.61,297.32 522.75,297.43 522.88,297.46 523.01,297.27 523.15,296.97 523.28,296.74 523.42,296.60 523.55,296.51 523.68,296.26 523.82,296.14 523.95,295.95 524.08,295.79 524.22,295.81 524.35,295.37 524.48,295.47 524.62,295.38 524.75,294.99 524.89,294.82 525.02,294.78 525.15,294.60 525.29,294.57 525.42,293.99 525.55,294.09 525.69,294.12 525.82,293.77 525.95,293.84 526.09,293.73 526.22,293.18 526.36,293.30 526.49,293.00" fill="none" stroke="#000" stroke-width="2.2" stroke-dasharray="1.820 5.460 7.280 5.460" stroke-dashoffset="0" stroke-linejoin="round"/>
</svg>
</body></html>
